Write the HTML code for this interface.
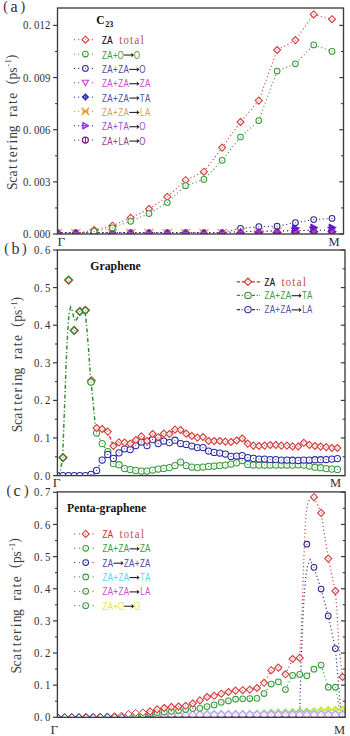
<!DOCTYPE html>
<html><head><meta charset="utf-8"><style>
html,body{margin:0;padding:0;background:#fff;}
svg{display:block;}
</style></head><body>
<svg width="350" height="736" viewBox="0 0 350 736">
<defs><clipPath id="ca"><rect x="57.5" y="8" width="286" height="226"/></clipPath><clipPath id="cb"><rect x="57.4" y="250" width="287.6" height="225.6"/></clipPath><clipPath id="cc"><rect x="57.4" y="491.9" width="287.8" height="225.4"/></clipPath></defs>
<rect width="350" height="736" fill="#fff"/>
<g clip-path="url(#ca)"><polyline points="57.5,232.7 75.8,232.7 94.1,232.7 112.4,232.7 130.7,232.7 149,232.7 167.3,232.7 185.6,232.7 203.9,232.7 222.2,232.7 240.5,231.7 258.8,231.3 277.1,231.1 295.4,230.7 313.7,230.3 332,230.3" fill="none" stroke="#d43c3c" stroke-width="1.1" stroke-dasharray="1.1 3" stroke-linecap="butt"/><polyline points="57.5,232.6 75.8,232.6 94.1,232.6 112.4,232.6 130.7,232.6 149,232.6 167.3,232.6 185.6,232.6 203.9,232.6 222.2,232.6 240.5,231.6 258.8,231.2 277.1,231 295.4,230.6 313.7,230.2 332,230.2" fill="none" stroke="#7a2a9a" stroke-width="1.1" stroke-dasharray="1.1 3" stroke-linecap="butt"/><polyline points="57.5,232.5 75.8,232.5 94.1,232.5 112.4,232.5 130.7,232.5 149,232.5 167.3,232.5 185.6,232.5 203.9,232.5 222.2,232.5 240.5,228.4 258.8,226.7 277.1,226.2 295.4,222.7 313.7,219.6 332,218.4" fill="none" stroke="#2a2a8c" stroke-width="1.1" stroke-dasharray="1.1 2.6" stroke-linecap="butt"/><polyline points="57.5,234.5 75.8,233.8 94.1,231.4 112.4,227.9 130.7,221.3 149,213.6 167.3,202.5 185.6,185.7 203.9,179.4 222.2,160.3 240.5,137 258.8,120.6 277.1,71 295.4,63.8 313.7,44.9 332,51.4" fill="none" stroke="#3a9a3a" stroke-width="1.1" stroke-dasharray="1.1 2.6" stroke-linecap="butt"/><polyline points="57.5,234 75.8,233.3 94.1,230 112.4,225.7 130.7,217.8 149,209 167.3,196.8 185.6,180.2 203.9,171.7 222.2,147.6 240.5,122 258.8,100.6 277.1,50 295.4,40.1 313.7,14.4 332,19.2" fill="none" stroke="#d43c3c" stroke-width="1.1" stroke-dasharray="1.1 2.6" stroke-linecap="butt"/><circle cx="57.5" cy="232.5" r="2.85" fill="#fff" stroke="#2a2a8c" stroke-width="1.05"/><circle cx="57.5" cy="232.5" r="0.55" fill="#2a2a8c"/><circle cx="75.8" cy="232.5" r="2.85" fill="#fff" stroke="#2a2a8c" stroke-width="1.05"/><circle cx="75.8" cy="232.5" r="0.55" fill="#2a2a8c"/><circle cx="94.1" cy="232.5" r="2.85" fill="#fff" stroke="#2a2a8c" stroke-width="1.05"/><circle cx="94.1" cy="232.5" r="0.55" fill="#2a2a8c"/><circle cx="112.4" cy="232.5" r="2.85" fill="#fff" stroke="#2a2a8c" stroke-width="1.05"/><circle cx="112.4" cy="232.5" r="0.55" fill="#2a2a8c"/><circle cx="130.7" cy="232.5" r="2.85" fill="#fff" stroke="#2a2a8c" stroke-width="1.05"/><circle cx="130.7" cy="232.5" r="0.55" fill="#2a2a8c"/><circle cx="149" cy="232.5" r="2.85" fill="#fff" stroke="#2a2a8c" stroke-width="1.05"/><circle cx="149" cy="232.5" r="0.55" fill="#2a2a8c"/><circle cx="167.3" cy="232.5" r="2.85" fill="#fff" stroke="#2a2a8c" stroke-width="1.05"/><circle cx="167.3" cy="232.5" r="0.55" fill="#2a2a8c"/><circle cx="185.6" cy="232.5" r="2.85" fill="#fff" stroke="#2a2a8c" stroke-width="1.05"/><circle cx="185.6" cy="232.5" r="0.55" fill="#2a2a8c"/><circle cx="203.9" cy="232.5" r="2.85" fill="#fff" stroke="#2a2a8c" stroke-width="1.05"/><circle cx="203.9" cy="232.5" r="0.55" fill="#2a2a8c"/><circle cx="222.2" cy="232.5" r="2.85" fill="#fff" stroke="#2a2a8c" stroke-width="1.05"/><circle cx="222.2" cy="232.5" r="0.55" fill="#2a2a8c"/><circle cx="240.5" cy="228.4" r="2.85" fill="#fff" stroke="#2a2a8c" stroke-width="1.05"/><circle cx="240.5" cy="228.4" r="0.55" fill="#2a2a8c"/><circle cx="258.8" cy="226.7" r="2.85" fill="#fff" stroke="#2a2a8c" stroke-width="1.05"/><circle cx="258.8" cy="226.7" r="0.55" fill="#2a2a8c"/><circle cx="277.1" cy="226.2" r="2.85" fill="#fff" stroke="#2a2a8c" stroke-width="1.05"/><circle cx="277.1" cy="226.2" r="0.55" fill="#2a2a8c"/><circle cx="295.4" cy="222.7" r="2.85" fill="#fff" stroke="#2a2a8c" stroke-width="1.05"/><circle cx="295.4" cy="222.7" r="0.55" fill="#2a2a8c"/><circle cx="313.7" cy="219.6" r="2.85" fill="#fff" stroke="#2a2a8c" stroke-width="1.05"/><circle cx="313.7" cy="219.6" r="0.55" fill="#2a2a8c"/><circle cx="332" cy="218.4" r="2.85" fill="#fff" stroke="#2a2a8c" stroke-width="1.05"/><circle cx="332" cy="218.4" r="0.55" fill="#2a2a8c"/><path d="M52.9 229L62.1 238.2M52.9 238.2L62.1 229" stroke="#f2a040" stroke-width="1.1"/><path d="M57.5 229.3L62.3 234.2L57.5 238.7L52.7 234.2z" fill="#6a22c4"/><path d="M55.3 232.6L59.7 232.6L57.5 235.4z" fill="none" stroke="#e040b0" stroke-width="0.9"/><path d="M71.2 229L80.4 238.2M71.2 238.2L80.4 229" stroke="#f2a040" stroke-width="1.1"/><path d="M75.8 229.3L80.6 234.2L75.8 238.7L71 234.2z" fill="#6a22c4"/><path d="M73.6 232.6L78 232.6L75.8 235.4z" fill="none" stroke="#e040b0" stroke-width="0.9"/><path d="M89.5 229L98.7 238.2M89.5 238.2L98.7 229" stroke="#f2a040" stroke-width="1.1"/><path d="M94.1 229.3L98.9 234.2L94.1 238.7L89.3 234.2z" fill="#6a22c4"/><path d="M91.9 232.6L96.3 232.6L94.1 235.4z" fill="none" stroke="#e040b0" stroke-width="0.9"/><path d="M107.8 229L117 238.2M107.8 238.2L117 229" stroke="#f2a040" stroke-width="1.1"/><path d="M112.4 229.3L117.2 234.2L112.4 238.7L107.6 234.2z" fill="#6a22c4"/><path d="M110.2 232.6L114.6 232.6L112.4 235.4z" fill="none" stroke="#e040b0" stroke-width="0.9"/><path d="M126.1 229L135.3 238.2M126.1 238.2L135.3 229" stroke="#f2a040" stroke-width="1.1"/><path d="M130.7 229.3L135.5 234.2L130.7 238.7L125.9 234.2z" fill="#6a22c4"/><path d="M128.5 232.6L132.9 232.6L130.7 235.4z" fill="none" stroke="#e040b0" stroke-width="0.9"/><path d="M144.4 229L153.6 238.2M144.4 238.2L153.6 229" stroke="#f2a040" stroke-width="1.1"/><path d="M149 229.3L153.8 234.2L149 238.7L144.2 234.2z" fill="#6a22c4"/><path d="M146.8 232.6L151.2 232.6L149 235.4z" fill="none" stroke="#e040b0" stroke-width="0.9"/><path d="M162.7 229L171.9 238.2M162.7 238.2L171.9 229" stroke="#f2a040" stroke-width="1.1"/><path d="M167.3 229.3L172.1 234.2L167.3 238.7L162.5 234.2z" fill="#6a22c4"/><path d="M165.1 232.6L169.5 232.6L167.3 235.4z" fill="none" stroke="#e040b0" stroke-width="0.9"/><path d="M181 229L190.2 238.2M181 238.2L190.2 229" stroke="#f2a040" stroke-width="1.1"/><path d="M185.6 229.3L190.4 234.2L185.6 238.7L180.8 234.2z" fill="#6a22c4"/><path d="M183.4 232.6L187.8 232.6L185.6 235.4z" fill="none" stroke="#e040b0" stroke-width="0.9"/><path d="M199.3 229L208.5 238.2M199.3 238.2L208.5 229" stroke="#f2a040" stroke-width="1.1"/><path d="M203.9 229.3L208.7 234.2L203.9 238.7L199.1 234.2z" fill="#6a22c4"/><path d="M201.7 232.6L206.1 232.6L203.9 235.4z" fill="none" stroke="#e040b0" stroke-width="0.9"/><path d="M217.6 229L226.8 238.2M217.6 238.2L226.8 229" stroke="#f2a040" stroke-width="1.1"/><path d="M222.2 229.3L227 234.2L222.2 238.7L217.4 234.2z" fill="#6a22c4"/><path d="M220 232.6L224.4 232.6L222.2 235.4z" fill="none" stroke="#e040b0" stroke-width="0.9"/><path d="M235.9 228L245.1 237.2M235.9 237.2L245.1 228" stroke="#f2a040" stroke-width="1.1"/><path d="M240.5 228.3L245.3 233.2L240.5 237.7L235.7 233.2z" fill="#6a22c4"/><path d="M238.3 231.6L242.7 231.6L240.5 234.4z" fill="none" stroke="#e040b0" stroke-width="0.9"/><path d="M254.2 227.6L263.4 236.8M254.2 236.8L263.4 227.6" stroke="#f2a040" stroke-width="1.1"/><path d="M258.8 227.9L263.6 232.8L258.8 237.3L254 232.8z" fill="#6a22c4"/><path d="M256.6 231.2L261 231.2L258.8 234z" fill="none" stroke="#e040b0" stroke-width="0.9"/><path d="M272.5 227.4L281.7 236.6M272.5 236.6L281.7 227.4" stroke="#f2a040" stroke-width="1.1"/><path d="M277.1 227.7L281.9 232.6L277.1 237.1L272.3 232.6z" fill="#6a22c4"/><path d="M274.9 231L279.3 231L277.1 233.8z" fill="none" stroke="#e040b0" stroke-width="0.9"/><path d="M290.8 227L300 236.2M290.8 236.2L300 227" stroke="#f2a040" stroke-width="1.1"/><path d="M295.4 227.3L300.2 232.2L295.4 236.7L290.6 232.2z" fill="#6a22c4"/><path d="M293.2 230.6L297.6 230.6L295.4 233.4z" fill="none" stroke="#e040b0" stroke-width="0.9"/><path d="M292.68 225L298.8 228.4L292.68 231.8z" fill="#6a22d0" stroke="#5a1cc8" stroke-width="1.3" stroke-linejoin="round"/><line x1="290.98" y1="228.4" x2="297.1" y2="228.4" stroke="#5a1cc8" stroke-width="1"/><circle cx="295.4" cy="232" r="1.1" fill="#e05050"/><path d="M309.1 226.6L318.3 235.8M309.1 235.8L318.3 226.6" stroke="#f2a040" stroke-width="1.1"/><path d="M313.7 226.9L318.5 231.8L313.7 236.3L308.9 231.8z" fill="#6a22c4"/><path d="M311.5 230.2L315.9 230.2L313.7 233z" fill="none" stroke="#e040b0" stroke-width="0.9"/><path d="M310.98 224.2L317.1 227.6L310.98 231z" fill="#6a22d0" stroke="#5a1cc8" stroke-width="1.3" stroke-linejoin="round"/><line x1="309.28" y1="227.6" x2="315.4" y2="227.6" stroke="#5a1cc8" stroke-width="1"/><circle cx="313.7" cy="231.6" r="1.1" fill="#e05050"/><path d="M327.4 226.6L336.6 235.8M327.4 235.8L336.6 226.6" stroke="#f2a040" stroke-width="1.1"/><path d="M332 226.9L336.8 231.8L332 236.3L327.2 231.8z" fill="#6a22c4"/><path d="M329.8 230.2L334.2 230.2L332 233z" fill="none" stroke="#e040b0" stroke-width="0.9"/><path d="M329.28 224.2L335.4 227.6L329.28 231z" fill="#6a22d0" stroke="#5a1cc8" stroke-width="1.3" stroke-linejoin="round"/><line x1="327.58" y1="227.6" x2="333.7" y2="227.6" stroke="#5a1cc8" stroke-width="1"/><circle cx="332" cy="231.6" r="1.1" fill="#e05050"/><path d="M94.1 226.5L97.6 230L94.1 233.5L90.6 230z" fill="#fff" stroke="#d43c3c" stroke-width="1.1"/><circle cx="94.1" cy="230" r="0.55" fill="#d43c3c"/><path d="M112.4 222.2L115.9 225.7L112.4 229.2L108.9 225.7z" fill="#fff" stroke="#d43c3c" stroke-width="1.1"/><circle cx="112.4" cy="225.7" r="0.55" fill="#d43c3c"/><path d="M130.7 214.3L134.2 217.8L130.7 221.3L127.2 217.8z" fill="#fff" stroke="#d43c3c" stroke-width="1.1"/><circle cx="130.7" cy="217.8" r="0.55" fill="#d43c3c"/><path d="M149 205.5L152.5 209L149 212.5L145.5 209z" fill="#fff" stroke="#d43c3c" stroke-width="1.1"/><circle cx="149" cy="209" r="0.55" fill="#d43c3c"/><path d="M167.3 193.3L170.8 196.8L167.3 200.3L163.8 196.8z" fill="#fff" stroke="#d43c3c" stroke-width="1.1"/><circle cx="167.3" cy="196.8" r="0.55" fill="#d43c3c"/><path d="M185.6 176.7L189.1 180.2L185.6 183.7L182.1 180.2z" fill="#fff" stroke="#d43c3c" stroke-width="1.1"/><circle cx="185.6" cy="180.2" r="0.55" fill="#d43c3c"/><path d="M203.9 168.2L207.4 171.7L203.9 175.2L200.4 171.7z" fill="#fff" stroke="#d43c3c" stroke-width="1.1"/><circle cx="203.9" cy="171.7" r="0.55" fill="#d43c3c"/><path d="M222.2 144.1L225.7 147.6L222.2 151.1L218.7 147.6z" fill="#fff" stroke="#d43c3c" stroke-width="1.1"/><circle cx="222.2" cy="147.6" r="0.55" fill="#d43c3c"/><path d="M240.5 118.5L244 122L240.5 125.5L237 122z" fill="#fff" stroke="#d43c3c" stroke-width="1.1"/><circle cx="240.5" cy="122" r="0.55" fill="#d43c3c"/><path d="M258.8 97.1L262.3 100.6L258.8 104.1L255.3 100.6z" fill="#fff" stroke="#d43c3c" stroke-width="1.1"/><circle cx="258.8" cy="100.6" r="0.55" fill="#d43c3c"/><path d="M277.1 46.5L280.6 50L277.1 53.5L273.6 50z" fill="#fff" stroke="#d43c3c" stroke-width="1.1"/><circle cx="277.1" cy="50" r="0.55" fill="#d43c3c"/><path d="M295.4 36.6L298.9 40.1L295.4 43.6L291.9 40.1z" fill="#fff" stroke="#d43c3c" stroke-width="1.1"/><circle cx="295.4" cy="40.1" r="0.55" fill="#d43c3c"/><path d="M313.7 10.9L317.2 14.4L313.7 17.9L310.2 14.4z" fill="#fff" stroke="#d43c3c" stroke-width="1.1"/><circle cx="313.7" cy="14.4" r="0.55" fill="#d43c3c"/><path d="M332 15.7L335.5 19.2L332 22.7L328.5 19.2z" fill="#fff" stroke="#d43c3c" stroke-width="1.1"/><circle cx="332" cy="19.2" r="0.55" fill="#d43c3c"/><circle cx="94.1" cy="231.4" r="2.85" fill="#fff" stroke="#3a9a3a" stroke-width="1.05"/><circle cx="94.1" cy="231.4" r="0.55" fill="#3a9a3a"/><circle cx="112.4" cy="227.9" r="2.85" fill="#fff" stroke="#3a9a3a" stroke-width="1.05"/><circle cx="112.4" cy="227.9" r="0.55" fill="#3a9a3a"/><circle cx="130.7" cy="221.3" r="2.85" fill="#fff" stroke="#3a9a3a" stroke-width="1.05"/><circle cx="130.7" cy="221.3" r="0.55" fill="#3a9a3a"/><circle cx="149" cy="213.6" r="2.85" fill="#fff" stroke="#3a9a3a" stroke-width="1.05"/><circle cx="149" cy="213.6" r="0.55" fill="#3a9a3a"/><circle cx="167.3" cy="202.5" r="2.85" fill="#fff" stroke="#3a9a3a" stroke-width="1.05"/><circle cx="167.3" cy="202.5" r="0.55" fill="#3a9a3a"/><circle cx="185.6" cy="185.7" r="2.85" fill="#fff" stroke="#3a9a3a" stroke-width="1.05"/><circle cx="185.6" cy="185.7" r="0.55" fill="#3a9a3a"/><circle cx="203.9" cy="179.4" r="2.85" fill="#fff" stroke="#3a9a3a" stroke-width="1.05"/><circle cx="203.9" cy="179.4" r="0.55" fill="#3a9a3a"/><circle cx="222.2" cy="160.3" r="2.85" fill="#fff" stroke="#3a9a3a" stroke-width="1.05"/><circle cx="222.2" cy="160.3" r="0.55" fill="#3a9a3a"/><circle cx="240.5" cy="137" r="2.85" fill="#fff" stroke="#3a9a3a" stroke-width="1.05"/><circle cx="240.5" cy="137" r="0.55" fill="#3a9a3a"/><circle cx="258.8" cy="120.6" r="2.85" fill="#fff" stroke="#3a9a3a" stroke-width="1.05"/><circle cx="258.8" cy="120.6" r="0.55" fill="#3a9a3a"/><circle cx="277.1" cy="71" r="2.85" fill="#fff" stroke="#3a9a3a" stroke-width="1.05"/><circle cx="277.1" cy="71" r="0.55" fill="#3a9a3a"/><circle cx="295.4" cy="63.8" r="2.85" fill="#fff" stroke="#3a9a3a" stroke-width="1.05"/><circle cx="295.4" cy="63.8" r="0.55" fill="#3a9a3a"/><circle cx="313.7" cy="44.9" r="2.85" fill="#fff" stroke="#3a9a3a" stroke-width="1.05"/><circle cx="313.7" cy="44.9" r="0.55" fill="#3a9a3a"/><circle cx="332" cy="51.4" r="2.85" fill="#fff" stroke="#3a9a3a" stroke-width="1.05"/><circle cx="332" cy="51.4" r="0.55" fill="#3a9a3a"/></g><rect x="57.5" y="8" width="286" height="226" fill="none" stroke="#3c3c3c" stroke-width="1.35"/><line x1="53.1" y1="234" x2="57.5" y2="234" stroke="#3c3c3c" stroke-width="1.2"/><line x1="339.3" y1="234" x2="343.5" y2="234" stroke="#3c3c3c" stroke-width="1.2"/><text x="28.47 33.53 40.81 46.97 53.14" y="238.1" font-family="Liberation Serif" font-size="12" font-weight="normal" fill="#303030" text-anchor="middle" transform="scale(0.9 1)" >0.000</text><line x1="53.1" y1="181.85" x2="57.5" y2="181.85" stroke="#3c3c3c" stroke-width="1.2"/><line x1="339.3" y1="181.85" x2="343.5" y2="181.85" stroke="#3c3c3c" stroke-width="1.2"/><text x="28.47 33.53 40.81 46.97 53.14" y="185.95" font-family="Liberation Serif" font-size="12" font-weight="normal" fill="#303030" text-anchor="middle" transform="scale(0.9 1)" >0.003</text><line x1="53.1" y1="129.7" x2="57.5" y2="129.7" stroke="#3c3c3c" stroke-width="1.2"/><line x1="339.3" y1="129.7" x2="343.5" y2="129.7" stroke="#3c3c3c" stroke-width="1.2"/><text x="28.47 33.53 40.81 46.97 53.14" y="133.8" font-family="Liberation Serif" font-size="12" font-weight="normal" fill="#303030" text-anchor="middle" transform="scale(0.9 1)" >0.006</text><line x1="53.1" y1="77.55" x2="57.5" y2="77.55" stroke="#3c3c3c" stroke-width="1.2"/><line x1="339.3" y1="77.55" x2="343.5" y2="77.55" stroke="#3c3c3c" stroke-width="1.2"/><text x="28.47 33.53 40.81 46.97 53.14" y="81.65" font-family="Liberation Serif" font-size="12" font-weight="normal" fill="#303030" text-anchor="middle" transform="scale(0.9 1)" >0.009</text><line x1="53.1" y1="25.4" x2="57.5" y2="25.4" stroke="#3c3c3c" stroke-width="1.2"/><line x1="339.3" y1="25.4" x2="343.5" y2="25.4" stroke="#3c3c3c" stroke-width="1.2"/><text x="28.47 33.53 40.81 46.97 53.14" y="29.5" font-family="Liberation Serif" font-size="12" font-weight="normal" fill="#303030" text-anchor="middle" transform="scale(0.9 1)" >0.012</text><line x1="55.1" y1="207.93" x2="57.5" y2="207.93" stroke="#3c3c3c" stroke-width="1.1"/><line x1="341.1" y1="207.93" x2="343.5" y2="207.93" stroke="#3c3c3c" stroke-width="1.1"/><line x1="55.1" y1="155.78" x2="57.5" y2="155.78" stroke="#3c3c3c" stroke-width="1.1"/><line x1="341.1" y1="155.78" x2="343.5" y2="155.78" stroke="#3c3c3c" stroke-width="1.1"/><line x1="55.1" y1="103.62" x2="57.5" y2="103.62" stroke="#3c3c3c" stroke-width="1.1"/><line x1="341.1" y1="103.62" x2="343.5" y2="103.62" stroke="#3c3c3c" stroke-width="1.1"/><line x1="55.1" y1="51.47" x2="57.5" y2="51.47" stroke="#3c3c3c" stroke-width="1.1"/><line x1="341.1" y1="51.47" x2="343.5" y2="51.47" stroke="#3c3c3c" stroke-width="1.1"/><g transform="translate(16.9 121.9) rotate(-90)" fill="#3c3c3c" font-family="Liberation Serif"><text x="-64.22 -57.86 -51.5 -45.14 -38.78 -32.42 -26.06 -19.7 -13.34 -6.98" y="0" font-size="13.6" text-anchor="middle">Scattering</text><text x="7.18 13.54 19.9 26.26" y="0" font-size="13.6" text-anchor="middle">rate</text><text x="39.8" y="-1.3" font-size="13.6" text-anchor="middle">(</text><text x="45.9 51.8" y="0" font-size="13.6" text-anchor="middle">ps</text><text x="56.6 60.6" y="-5.6" font-size="8" text-anchor="middle">-1</text><text x="65.0" y="-1.3" font-size="13.6" text-anchor="middle">)</text></g><text x="3.2" y="11.3" font-family="Liberation Serif" font-size="14" fill="#303030">(</text><text x="10.4" y="12.3" font-family="Liberation Serif" font-size="16" fill="#303030">a</text><text x="20.5" y="11.3" font-family="Liberation Serif" font-size="14" fill="#303030">)</text><text x="57.6" y="245.6" font-family="Liberation Serif" font-size="13.2" fill="#303030">&#915;</text><text x="328.4" y="245.6" font-family="Liberation Serif" font-size="12.5" fill="#303030">M</text><text x="96.3" y="24" font-family="Liberation Serif" font-size="11.6" font-weight="bold" fill="#111">C</text><text x="105.2" y="27.4" font-family="Liberation Serif" font-size="8" font-weight="bold" fill="#111">23</text><circle cx="74.5" cy="39.7" r="0.65" fill="#d43c3c"/><circle cx="78.7" cy="39.7" r="0.65" fill="#d43c3c"/><circle cx="92.5" cy="39.7" r="0.65" fill="#d43c3c"/><path d="M85.4 36.2L88.9 39.7L85.4 43.2L81.9 39.7z" fill="#fff" stroke="#d43c3c" stroke-width="1.1"/><circle cx="85.4" cy="39.7" r="0.55" fill="#d43c3c"/><text x="130.62 137.38" y="44.2" font-family="Liberation Sans" font-size="10" font-weight="normal" fill="#111111" text-anchor="middle" transform="scale(0.8 1)" stroke="#111111" stroke-width="0.2">ZA</text><text x="137.16 143.3 149.43 155.57 161.7" y="44.2" font-family="Liberation Serif" font-size="12.2" font-weight="normal" fill="#b84a4a" text-anchor="middle" transform="scale(0.88 1)" >total</text><circle cx="74.5" cy="54.04" r="0.65" fill="#3a9a3a"/><circle cx="78.7" cy="54.04" r="0.65" fill="#3a9a3a"/><circle cx="92.5" cy="54.04" r="0.65" fill="#3a9a3a"/><circle cx="85.4" cy="54.04" r="2.85" fill="#fff" stroke="#3a9a3a" stroke-width="1.05"/><circle cx="85.4" cy="54.04" r="0.55" fill="#3a9a3a"/><text x="130.62 137.38 144.12 150.88" y="58.54" font-family="Liberation Sans" font-size="10" font-weight="normal" fill="#3f9a3f" text-anchor="middle" transform="scale(0.8 1)" >ZA+O</text><line x1="123.9" y1="55.04" x2="132.6" y2="55.04" stroke="#1a1a1a" stroke-width="1.05"/><path d="M131.1 52.64L134.1 55.04L131.1 57.44L132 55.04z" fill="#1a1a1a"/><text x="171.12" y="58.54" font-family="Liberation Sans" font-size="10" font-weight="normal" fill="#3f9a3f" text-anchor="middle" transform="scale(0.8 1)" >O</text><circle cx="74.5" cy="68.38" r="0.65" fill="#2a2a8c"/><circle cx="78.7" cy="68.38" r="0.65" fill="#2a2a8c"/><circle cx="92.5" cy="68.38" r="0.65" fill="#2a2a8c"/><circle cx="85.4" cy="68.38" r="2.85" fill="#fff" stroke="#2a2a8c" stroke-width="1.05"/><circle cx="85.4" cy="68.38" r="0.55" fill="#2a2a8c"/><text x="130.62 137.38 144.12 150.88 157.62" y="72.88" font-family="Liberation Sans" font-size="10" font-weight="normal" fill="#4a4aa0" text-anchor="middle" transform="scale(0.8 1)" >ZA+ZA</text><line x1="129.3" y1="69.38" x2="138" y2="69.38" stroke="#1a1a1a" stroke-width="1.05"/><path d="M136.5 66.98L139.5 69.38L136.5 71.78L137.4 69.38z" fill="#1a1a1a"/><text x="177.87" y="72.88" font-family="Liberation Sans" font-size="10" font-weight="normal" fill="#4a4aa0" text-anchor="middle" transform="scale(0.8 1)" >O</text><circle cx="74.5" cy="82.72" r="0.65" fill="#d23cd2"/><circle cx="78.7" cy="82.72" r="0.65" fill="#d23cd2"/><circle cx="92.5" cy="82.72" r="0.65" fill="#d23cd2"/><path d="M82.3 80.24L88.5 80.24L85.4 85.66z" fill="#fff" stroke="#d23cd2" stroke-width="1.15"/><text x="130.62 137.38 144.12 150.88 157.62" y="87.22" font-family="Liberation Sans" font-size="10" font-weight="normal" fill="#cc4acc" text-anchor="middle" transform="scale(0.8 1)" >ZA+ZA</text><line x1="129.3" y1="83.72" x2="138" y2="83.72" stroke="#1a1a1a" stroke-width="1.05"/><path d="M136.5 81.32L139.5 83.72L136.5 86.12L137.4 83.72z" fill="#1a1a1a"/><text x="177.87 184.62" y="87.22" font-family="Liberation Sans" font-size="10" font-weight="normal" fill="#cc4acc" text-anchor="middle" transform="scale(0.8 1)" >ZA</text><circle cx="74.5" cy="97.06" r="0.65" fill="#1c1cb4"/><circle cx="78.7" cy="97.06" r="0.65" fill="#1c1cb4"/><circle cx="92.5" cy="97.06" r="0.65" fill="#1c1cb4"/><path d="M85.4 93.36L89.1 97.06L85.4 100.76L81.7 97.06z" fill="#1c1cb4"/><path d="M84.6 95.46v3.2M86.2 95.46v3.2" stroke="#c8c8ff" stroke-width="0.6"/><text x="130.62 137.38 144.12 150.88 157.62" y="101.56" font-family="Liberation Sans" font-size="10" font-weight="normal" fill="#4a50b4" text-anchor="middle" transform="scale(0.8 1)" >ZA+ZA</text><line x1="129.3" y1="98.06" x2="138" y2="98.06" stroke="#1a1a1a" stroke-width="1.05"/><path d="M136.5 95.66L139.5 98.06L136.5 100.46L137.4 98.06z" fill="#1a1a1a"/><text x="177.87 184.62" y="101.56" font-family="Liberation Sans" font-size="10" font-weight="normal" fill="#4a50b4" text-anchor="middle" transform="scale(0.8 1)" >TA</text><circle cx="74.5" cy="111.4" r="0.65" fill="#f0901e"/><circle cx="78.7" cy="111.4" r="0.65" fill="#f0901e"/><circle cx="92.5" cy="111.4" r="0.65" fill="#f0901e"/><path d="M81.6 107.6L89.2 115.2M81.6 115.2L89.2 107.6" stroke="#f0901e" stroke-width="1.2"/><path d="M82.55 109.12L85.4 111.4L82.55 113.68z M88.25 109.12L85.4 111.4L88.25 113.68z" fill="#f0901e" fill-opacity="0.85"/><text x="130.62 137.38 144.12 150.88 157.62" y="115.9" font-family="Liberation Sans" font-size="10" font-weight="normal" fill="#d4a060" text-anchor="middle" transform="scale(0.8 1)" >ZA+ZA</text><line x1="129.3" y1="112.4" x2="138" y2="112.4" stroke="#1a1a1a" stroke-width="1.05"/><path d="M136.5 110L139.5 112.4L136.5 114.8L137.4 112.4z" fill="#1a1a1a"/><text x="177.87 184.62" y="115.9" font-family="Liberation Sans" font-size="10" font-weight="normal" fill="#d4a060" text-anchor="middle" transform="scale(0.8 1)" >LA</text><circle cx="74.5" cy="125.74" r="0.65" fill="#8a2be2"/><circle cx="78.7" cy="125.74" r="0.65" fill="#8a2be2"/><circle cx="92.5" cy="125.74" r="0.65" fill="#8a2be2"/><path d="M82.84 122.54L88.6 125.74L82.84 128.94z" fill="#dcc8fa" stroke="#8a2be2" stroke-width="1.3" stroke-linejoin="round"/><line x1="81.24" y1="125.74" x2="87" y2="125.74" stroke="#8a2be2" stroke-width="1"/><text x="130.62 137.38 144.12 150.88 157.62" y="130.24" font-family="Liberation Sans" font-size="10" font-weight="normal" fill="#9050d0" text-anchor="middle" transform="scale(0.8 1)" >ZA+TA</text><line x1="129.3" y1="126.74" x2="138" y2="126.74" stroke="#1a1a1a" stroke-width="1.05"/><path d="M136.5 124.34L139.5 126.74L136.5 129.14L137.4 126.74z" fill="#1a1a1a"/><text x="177.87" y="130.24" font-family="Liberation Sans" font-size="10" font-weight="normal" fill="#9050d0" text-anchor="middle" transform="scale(0.8 1)" >O</text><circle cx="74.5" cy="140.08" r="0.65" fill="#7a1f7a"/><circle cx="78.7" cy="140.08" r="0.65" fill="#7a1f7a"/><circle cx="92.5" cy="140.08" r="0.65" fill="#7a1f7a"/><circle cx="85.4" cy="140.08" r="3" fill="#fff" stroke="#7a1f7a" stroke-width="1.2"/><line x1="85.4" y1="137.08" x2="85.4" y2="143.08" stroke="#7a1f7a" stroke-width="1"/><text x="130.62 137.38 144.12 150.88 157.62" y="144.58" font-family="Liberation Sans" font-size="10" font-weight="normal" fill="#904090" text-anchor="middle" transform="scale(0.8 1)" >ZA+LA</text><line x1="129.3" y1="141.08" x2="138" y2="141.08" stroke="#1a1a1a" stroke-width="1.05"/><path d="M136.5 138.68L139.5 141.08L136.5 143.48L137.4 141.08z" fill="#1a1a1a"/><text x="177.87" y="144.58" font-family="Liberation Sans" font-size="10" font-weight="normal" fill="#904090" text-anchor="middle" transform="scale(0.8 1)" >O</text><g clip-path="url(#cb)"><polyline points="57.6,476 60.5,470 62.6,457.6 64.6,405 66.2,362 67.6,333 69,314 70.6,307.3 72.3,311 74.1,319 75.8,321.5 78,316.5 79.7,312.4 83.3,312.2 85.6,316 86.8,328.3 88.6,349.5 90.3,374.2 92.1,392 94,412 96,433" fill="none" stroke="#2e8b2e" stroke-width="1.45" stroke-dasharray="4 2.2 1.2 2.4" stroke-linecap="butt"/><polyline points="96.6,433 102.2,443.6 107.8,451.6 113.4,463.6 119,464.7 124.6,468.5 130.2,469.6 135.8,470.4 141.4,471 147,471 152.6,470 158.2,469 163.8,468.4 169.4,467.6 175,465.5 180.6,462 186.2,465.6 191.8,467 197.4,467.6 203,467 208.6,466.4 214.2,466 219.8,465.6 225.4,465 231,464 236.6,462.8 242.2,460.5 247.8,464.4 253.4,465 259,465 264.6,465 270.2,465 275.8,465 281.4,465 287,465 292.6,465.1 298.2,464.8 303.8,465.1 309.4,466 315,467.2 320.6,467.7 326.2,468.6 331.8,469.1 337.4,469.4" fill="none" stroke="#2e8b2e" stroke-width="1.3" stroke-dasharray="4 2.2 1.2 2.4" stroke-linecap="butt"/><polyline points="57.4,475.6 63,475.6 68.6,475.6 74.2,475.6 79.8,475.6 85.4,475.6 91,474.4 96.6,470.4 102.2,460 107.8,454.4 113.4,458.4 119,452.8 124.6,448.8 130.2,449.6 135.8,445.6 141.4,442 147,445.6 152.6,439.6 158.2,443.6 163.8,441 169.4,442.6 175,440.2 180.6,443.5 186.2,444.4 191.8,446 197.4,447.6 203,447.6 208.6,451 214.2,452.4 219.8,453 225.4,454 231,456.4 236.6,456 242.2,455.5 247.8,457.6 253.4,458.4 259,459 264.6,459 270.2,459.6 275.8,459.6 281.4,460 287,460 292.6,460.2 298.2,460.4 303.8,460 309.4,460 315,459.7 320.6,459.7 326.2,459.5 331.8,459.1 337.4,458.6" fill="none" stroke="#2a2aa0" stroke-width="1.3" stroke-dasharray="4 2.2 1.2 2.4" stroke-linecap="butt"/><polyline points="96.6,428 102.2,429 107.8,431.6 113.4,446 119,442.4 124.6,442.6 130.2,443.6 135.8,440 141.4,436.4 147,441 152.6,434 158.2,437.2 163.8,433.6 169.4,434 175,429.6 180.6,430 186.2,433.6 191.8,436 197.4,437.6 203,437 208.6,441 214.2,441 219.8,441 225.4,441.6 231,442 236.6,440.5 242.2,438.5 247.8,443.6 253.4,445.6 259,446 264.6,445.6 270.2,445 275.8,445 281.4,445.6 287,445.6 292.6,446.4 298.2,446.5 303.8,442.8 309.4,444.9 315,446 320.6,446.6 326.2,447.1 331.8,448 337.4,448" fill="none" stroke="#d42a2a" stroke-width="1.35" stroke-dasharray="3.6 2" stroke-linecap="butt"/><circle cx="96.6" cy="433" r="3.1" fill="#fff" stroke="#3a9a3a" stroke-width="1.05"/><circle cx="96.6" cy="433" r="0.55" fill="#3a9a3a"/><circle cx="102.2" cy="443.6" r="3.1" fill="#fff" stroke="#3a9a3a" stroke-width="1.05"/><circle cx="102.2" cy="443.6" r="0.55" fill="#3a9a3a"/><circle cx="107.8" cy="451.6" r="3.1" fill="#fff" stroke="#3a9a3a" stroke-width="1.05"/><circle cx="107.8" cy="451.6" r="0.55" fill="#3a9a3a"/><circle cx="113.4" cy="463.6" r="3.1" fill="#fff" stroke="#3a9a3a" stroke-width="1.05"/><circle cx="113.4" cy="463.6" r="0.55" fill="#3a9a3a"/><circle cx="119" cy="464.7" r="3.1" fill="#fff" stroke="#3a9a3a" stroke-width="1.05"/><circle cx="119" cy="464.7" r="0.55" fill="#3a9a3a"/><circle cx="124.6" cy="468.5" r="3.1" fill="#fff" stroke="#3a9a3a" stroke-width="1.05"/><circle cx="124.6" cy="468.5" r="0.55" fill="#3a9a3a"/><circle cx="130.2" cy="469.6" r="3.1" fill="#fff" stroke="#3a9a3a" stroke-width="1.05"/><circle cx="130.2" cy="469.6" r="0.55" fill="#3a9a3a"/><circle cx="135.8" cy="470.4" r="3.1" fill="#fff" stroke="#3a9a3a" stroke-width="1.05"/><circle cx="135.8" cy="470.4" r="0.55" fill="#3a9a3a"/><circle cx="141.4" cy="471" r="3.1" fill="#fff" stroke="#3a9a3a" stroke-width="1.05"/><circle cx="141.4" cy="471" r="0.55" fill="#3a9a3a"/><circle cx="147" cy="471" r="3.1" fill="#fff" stroke="#3a9a3a" stroke-width="1.05"/><circle cx="147" cy="471" r="0.55" fill="#3a9a3a"/><circle cx="152.6" cy="470" r="3.1" fill="#fff" stroke="#3a9a3a" stroke-width="1.05"/><circle cx="152.6" cy="470" r="0.55" fill="#3a9a3a"/><circle cx="158.2" cy="469" r="3.1" fill="#fff" stroke="#3a9a3a" stroke-width="1.05"/><circle cx="158.2" cy="469" r="0.55" fill="#3a9a3a"/><circle cx="163.8" cy="468.4" r="3.1" fill="#fff" stroke="#3a9a3a" stroke-width="1.05"/><circle cx="163.8" cy="468.4" r="0.55" fill="#3a9a3a"/><circle cx="169.4" cy="467.6" r="3.1" fill="#fff" stroke="#3a9a3a" stroke-width="1.05"/><circle cx="169.4" cy="467.6" r="0.55" fill="#3a9a3a"/><circle cx="175" cy="465.5" r="3.1" fill="#fff" stroke="#3a9a3a" stroke-width="1.05"/><circle cx="175" cy="465.5" r="0.55" fill="#3a9a3a"/><circle cx="180.6" cy="462" r="3.1" fill="#fff" stroke="#3a9a3a" stroke-width="1.05"/><circle cx="180.6" cy="462" r="0.55" fill="#3a9a3a"/><circle cx="186.2" cy="465.6" r="3.1" fill="#fff" stroke="#3a9a3a" stroke-width="1.05"/><circle cx="186.2" cy="465.6" r="0.55" fill="#3a9a3a"/><circle cx="191.8" cy="467" r="3.1" fill="#fff" stroke="#3a9a3a" stroke-width="1.05"/><circle cx="191.8" cy="467" r="0.55" fill="#3a9a3a"/><circle cx="197.4" cy="467.6" r="3.1" fill="#fff" stroke="#3a9a3a" stroke-width="1.05"/><circle cx="197.4" cy="467.6" r="0.55" fill="#3a9a3a"/><circle cx="203" cy="467" r="3.1" fill="#fff" stroke="#3a9a3a" stroke-width="1.05"/><circle cx="203" cy="467" r="0.55" fill="#3a9a3a"/><circle cx="208.6" cy="466.4" r="3.1" fill="#fff" stroke="#3a9a3a" stroke-width="1.05"/><circle cx="208.6" cy="466.4" r="0.55" fill="#3a9a3a"/><circle cx="214.2" cy="466" r="3.1" fill="#fff" stroke="#3a9a3a" stroke-width="1.05"/><circle cx="214.2" cy="466" r="0.55" fill="#3a9a3a"/><circle cx="219.8" cy="465.6" r="3.1" fill="#fff" stroke="#3a9a3a" stroke-width="1.05"/><circle cx="219.8" cy="465.6" r="0.55" fill="#3a9a3a"/><circle cx="225.4" cy="465" r="3.1" fill="#fff" stroke="#3a9a3a" stroke-width="1.05"/><circle cx="225.4" cy="465" r="0.55" fill="#3a9a3a"/><circle cx="231" cy="464" r="3.1" fill="#fff" stroke="#3a9a3a" stroke-width="1.05"/><circle cx="231" cy="464" r="0.55" fill="#3a9a3a"/><circle cx="236.6" cy="462.8" r="3.1" fill="#fff" stroke="#3a9a3a" stroke-width="1.05"/><circle cx="236.6" cy="462.8" r="0.55" fill="#3a9a3a"/><circle cx="242.2" cy="460.5" r="3.1" fill="#fff" stroke="#3a9a3a" stroke-width="1.05"/><circle cx="242.2" cy="460.5" r="0.55" fill="#3a9a3a"/><circle cx="247.8" cy="464.4" r="3.1" fill="#fff" stroke="#3a9a3a" stroke-width="1.05"/><circle cx="247.8" cy="464.4" r="0.55" fill="#3a9a3a"/><circle cx="253.4" cy="465" r="3.1" fill="#fff" stroke="#3a9a3a" stroke-width="1.05"/><circle cx="253.4" cy="465" r="0.55" fill="#3a9a3a"/><circle cx="259" cy="465" r="3.1" fill="#fff" stroke="#3a9a3a" stroke-width="1.05"/><circle cx="259" cy="465" r="0.55" fill="#3a9a3a"/><circle cx="264.6" cy="465" r="3.1" fill="#fff" stroke="#3a9a3a" stroke-width="1.05"/><circle cx="264.6" cy="465" r="0.55" fill="#3a9a3a"/><circle cx="270.2" cy="465" r="3.1" fill="#fff" stroke="#3a9a3a" stroke-width="1.05"/><circle cx="270.2" cy="465" r="0.55" fill="#3a9a3a"/><circle cx="275.8" cy="465" r="3.1" fill="#fff" stroke="#3a9a3a" stroke-width="1.05"/><circle cx="275.8" cy="465" r="0.55" fill="#3a9a3a"/><circle cx="281.4" cy="465" r="3.1" fill="#fff" stroke="#3a9a3a" stroke-width="1.05"/><circle cx="281.4" cy="465" r="0.55" fill="#3a9a3a"/><circle cx="287" cy="465" r="3.1" fill="#fff" stroke="#3a9a3a" stroke-width="1.05"/><circle cx="287" cy="465" r="0.55" fill="#3a9a3a"/><circle cx="292.6" cy="465.1" r="3.1" fill="#fff" stroke="#3a9a3a" stroke-width="1.05"/><circle cx="292.6" cy="465.1" r="0.55" fill="#3a9a3a"/><circle cx="298.2" cy="464.8" r="3.1" fill="#fff" stroke="#3a9a3a" stroke-width="1.05"/><circle cx="298.2" cy="464.8" r="0.55" fill="#3a9a3a"/><circle cx="303.8" cy="465.1" r="3.1" fill="#fff" stroke="#3a9a3a" stroke-width="1.05"/><circle cx="303.8" cy="465.1" r="0.55" fill="#3a9a3a"/><circle cx="309.4" cy="466" r="3.1" fill="#fff" stroke="#3a9a3a" stroke-width="1.05"/><circle cx="309.4" cy="466" r="0.55" fill="#3a9a3a"/><circle cx="315" cy="467.2" r="3.1" fill="#fff" stroke="#3a9a3a" stroke-width="1.05"/><circle cx="315" cy="467.2" r="0.55" fill="#3a9a3a"/><circle cx="320.6" cy="467.7" r="3.1" fill="#fff" stroke="#3a9a3a" stroke-width="1.05"/><circle cx="320.6" cy="467.7" r="0.55" fill="#3a9a3a"/><circle cx="326.2" cy="468.6" r="3.1" fill="#fff" stroke="#3a9a3a" stroke-width="1.05"/><circle cx="326.2" cy="468.6" r="0.55" fill="#3a9a3a"/><circle cx="331.8" cy="469.1" r="3.1" fill="#fff" stroke="#3a9a3a" stroke-width="1.05"/><circle cx="331.8" cy="469.1" r="0.55" fill="#3a9a3a"/><circle cx="337.4" cy="469.4" r="3.1" fill="#fff" stroke="#3a9a3a" stroke-width="1.05"/><circle cx="337.4" cy="469.4" r="0.55" fill="#3a9a3a"/><circle cx="57.4" cy="475.6" r="3.1" fill="#fff" stroke="#2a2aa0" stroke-width="1.05"/><circle cx="57.4" cy="475.6" r="0.55" fill="#2a2aa0"/><circle cx="63" cy="475.6" r="3.1" fill="#fff" stroke="#2a2aa0" stroke-width="1.05"/><circle cx="63" cy="475.6" r="0.55" fill="#2a2aa0"/><circle cx="68.6" cy="475.6" r="3.1" fill="#fff" stroke="#2a2aa0" stroke-width="1.05"/><circle cx="68.6" cy="475.6" r="0.55" fill="#2a2aa0"/><circle cx="74.2" cy="475.6" r="3.1" fill="#fff" stroke="#2a2aa0" stroke-width="1.05"/><circle cx="74.2" cy="475.6" r="0.55" fill="#2a2aa0"/><circle cx="79.8" cy="475.6" r="3.1" fill="#fff" stroke="#2a2aa0" stroke-width="1.05"/><circle cx="79.8" cy="475.6" r="0.55" fill="#2a2aa0"/><circle cx="85.4" cy="475.6" r="3.1" fill="#fff" stroke="#2a2aa0" stroke-width="1.05"/><circle cx="85.4" cy="475.6" r="0.55" fill="#2a2aa0"/><circle cx="91" cy="474.4" r="3.1" fill="#fff" stroke="#2a2aa0" stroke-width="1.05"/><circle cx="91" cy="474.4" r="0.55" fill="#2a2aa0"/><circle cx="96.6" cy="470.4" r="3.1" fill="#fff" stroke="#2a2aa0" stroke-width="1.05"/><circle cx="96.6" cy="470.4" r="0.55" fill="#2a2aa0"/><circle cx="102.2" cy="460" r="3.1" fill="#fff" stroke="#2a2aa0" stroke-width="1.05"/><circle cx="102.2" cy="460" r="0.55" fill="#2a2aa0"/><circle cx="107.8" cy="454.4" r="3.1" fill="#fff" stroke="#2a2aa0" stroke-width="1.05"/><circle cx="107.8" cy="454.4" r="0.55" fill="#2a2aa0"/><circle cx="113.4" cy="458.4" r="3.1" fill="#fff" stroke="#2a2aa0" stroke-width="1.05"/><circle cx="113.4" cy="458.4" r="0.55" fill="#2a2aa0"/><circle cx="119" cy="452.8" r="3.1" fill="#fff" stroke="#2a2aa0" stroke-width="1.05"/><circle cx="119" cy="452.8" r="0.55" fill="#2a2aa0"/><circle cx="124.6" cy="448.8" r="3.1" fill="#fff" stroke="#2a2aa0" stroke-width="1.05"/><circle cx="124.6" cy="448.8" r="0.55" fill="#2a2aa0"/><circle cx="130.2" cy="449.6" r="3.1" fill="#fff" stroke="#2a2aa0" stroke-width="1.05"/><circle cx="130.2" cy="449.6" r="0.55" fill="#2a2aa0"/><circle cx="135.8" cy="445.6" r="3.1" fill="#fff" stroke="#2a2aa0" stroke-width="1.05"/><circle cx="135.8" cy="445.6" r="0.55" fill="#2a2aa0"/><circle cx="141.4" cy="442" r="3.1" fill="#fff" stroke="#2a2aa0" stroke-width="1.05"/><circle cx="141.4" cy="442" r="0.55" fill="#2a2aa0"/><circle cx="147" cy="445.6" r="3.1" fill="#fff" stroke="#2a2aa0" stroke-width="1.05"/><circle cx="147" cy="445.6" r="0.55" fill="#2a2aa0"/><circle cx="152.6" cy="439.6" r="3.1" fill="#fff" stroke="#2a2aa0" stroke-width="1.05"/><circle cx="152.6" cy="439.6" r="0.55" fill="#2a2aa0"/><circle cx="158.2" cy="443.6" r="3.1" fill="#fff" stroke="#2a2aa0" stroke-width="1.05"/><circle cx="158.2" cy="443.6" r="0.55" fill="#2a2aa0"/><circle cx="163.8" cy="441" r="3.1" fill="#fff" stroke="#2a2aa0" stroke-width="1.05"/><circle cx="163.8" cy="441" r="0.55" fill="#2a2aa0"/><circle cx="169.4" cy="442.6" r="3.1" fill="#fff" stroke="#2a2aa0" stroke-width="1.05"/><circle cx="169.4" cy="442.6" r="0.55" fill="#2a2aa0"/><circle cx="175" cy="440.2" r="3.1" fill="#fff" stroke="#2a2aa0" stroke-width="1.05"/><circle cx="175" cy="440.2" r="0.55" fill="#2a2aa0"/><circle cx="180.6" cy="443.5" r="3.1" fill="#fff" stroke="#2a2aa0" stroke-width="1.05"/><circle cx="180.6" cy="443.5" r="0.55" fill="#2a2aa0"/><circle cx="186.2" cy="444.4" r="3.1" fill="#fff" stroke="#2a2aa0" stroke-width="1.05"/><circle cx="186.2" cy="444.4" r="0.55" fill="#2a2aa0"/><circle cx="191.8" cy="446" r="3.1" fill="#fff" stroke="#2a2aa0" stroke-width="1.05"/><circle cx="191.8" cy="446" r="0.55" fill="#2a2aa0"/><circle cx="197.4" cy="447.6" r="3.1" fill="#fff" stroke="#2a2aa0" stroke-width="1.05"/><circle cx="197.4" cy="447.6" r="0.55" fill="#2a2aa0"/><circle cx="203" cy="447.6" r="3.1" fill="#fff" stroke="#2a2aa0" stroke-width="1.05"/><circle cx="203" cy="447.6" r="0.55" fill="#2a2aa0"/><circle cx="208.6" cy="451" r="3.1" fill="#fff" stroke="#2a2aa0" stroke-width="1.05"/><circle cx="208.6" cy="451" r="0.55" fill="#2a2aa0"/><circle cx="214.2" cy="452.4" r="3.1" fill="#fff" stroke="#2a2aa0" stroke-width="1.05"/><circle cx="214.2" cy="452.4" r="0.55" fill="#2a2aa0"/><circle cx="219.8" cy="453" r="3.1" fill="#fff" stroke="#2a2aa0" stroke-width="1.05"/><circle cx="219.8" cy="453" r="0.55" fill="#2a2aa0"/><circle cx="225.4" cy="454" r="3.1" fill="#fff" stroke="#2a2aa0" stroke-width="1.05"/><circle cx="225.4" cy="454" r="0.55" fill="#2a2aa0"/><circle cx="231" cy="456.4" r="3.1" fill="#fff" stroke="#2a2aa0" stroke-width="1.05"/><circle cx="231" cy="456.4" r="0.55" fill="#2a2aa0"/><circle cx="236.6" cy="456" r="3.1" fill="#fff" stroke="#2a2aa0" stroke-width="1.05"/><circle cx="236.6" cy="456" r="0.55" fill="#2a2aa0"/><circle cx="242.2" cy="455.5" r="3.1" fill="#fff" stroke="#2a2aa0" stroke-width="1.05"/><circle cx="242.2" cy="455.5" r="0.55" fill="#2a2aa0"/><circle cx="247.8" cy="457.6" r="3.1" fill="#fff" stroke="#2a2aa0" stroke-width="1.05"/><circle cx="247.8" cy="457.6" r="0.55" fill="#2a2aa0"/><circle cx="253.4" cy="458.4" r="3.1" fill="#fff" stroke="#2a2aa0" stroke-width="1.05"/><circle cx="253.4" cy="458.4" r="0.55" fill="#2a2aa0"/><circle cx="259" cy="459" r="3.1" fill="#fff" stroke="#2a2aa0" stroke-width="1.05"/><circle cx="259" cy="459" r="0.55" fill="#2a2aa0"/><circle cx="264.6" cy="459" r="3.1" fill="#fff" stroke="#2a2aa0" stroke-width="1.05"/><circle cx="264.6" cy="459" r="0.55" fill="#2a2aa0"/><circle cx="270.2" cy="459.6" r="3.1" fill="#fff" stroke="#2a2aa0" stroke-width="1.05"/><circle cx="270.2" cy="459.6" r="0.55" fill="#2a2aa0"/><circle cx="275.8" cy="459.6" r="3.1" fill="#fff" stroke="#2a2aa0" stroke-width="1.05"/><circle cx="275.8" cy="459.6" r="0.55" fill="#2a2aa0"/><circle cx="281.4" cy="460" r="3.1" fill="#fff" stroke="#2a2aa0" stroke-width="1.05"/><circle cx="281.4" cy="460" r="0.55" fill="#2a2aa0"/><circle cx="287" cy="460" r="3.1" fill="#fff" stroke="#2a2aa0" stroke-width="1.05"/><circle cx="287" cy="460" r="0.55" fill="#2a2aa0"/><circle cx="292.6" cy="460.2" r="3.1" fill="#fff" stroke="#2a2aa0" stroke-width="1.05"/><circle cx="292.6" cy="460.2" r="0.55" fill="#2a2aa0"/><circle cx="298.2" cy="460.4" r="3.1" fill="#fff" stroke="#2a2aa0" stroke-width="1.05"/><circle cx="298.2" cy="460.4" r="0.55" fill="#2a2aa0"/><circle cx="303.8" cy="460" r="3.1" fill="#fff" stroke="#2a2aa0" stroke-width="1.05"/><circle cx="303.8" cy="460" r="0.55" fill="#2a2aa0"/><circle cx="309.4" cy="460" r="3.1" fill="#fff" stroke="#2a2aa0" stroke-width="1.05"/><circle cx="309.4" cy="460" r="0.55" fill="#2a2aa0"/><circle cx="315" cy="459.7" r="3.1" fill="#fff" stroke="#2a2aa0" stroke-width="1.05"/><circle cx="315" cy="459.7" r="0.55" fill="#2a2aa0"/><circle cx="320.6" cy="459.7" r="3.1" fill="#fff" stroke="#2a2aa0" stroke-width="1.05"/><circle cx="320.6" cy="459.7" r="0.55" fill="#2a2aa0"/><circle cx="326.2" cy="459.5" r="3.1" fill="#fff" stroke="#2a2aa0" stroke-width="1.05"/><circle cx="326.2" cy="459.5" r="0.55" fill="#2a2aa0"/><circle cx="331.8" cy="459.1" r="3.1" fill="#fff" stroke="#2a2aa0" stroke-width="1.05"/><circle cx="331.8" cy="459.1" r="0.55" fill="#2a2aa0"/><circle cx="337.4" cy="458.6" r="3.1" fill="#fff" stroke="#2a2aa0" stroke-width="1.05"/><circle cx="337.4" cy="458.6" r="0.55" fill="#2a2aa0"/><path d="M63 453.6L67 457.6L63 461.6L59 457.6z" fill="#fff" stroke="#b83030" stroke-width="1.2"/><circle cx="63" cy="457.6" r="0.55" fill="#b83030"/><path d="M63 454.2L66.4 457.6L63 461L59.6 457.6z" fill="#fff" stroke="#2f8f2f" stroke-width="1.2"/><circle cx="63" cy="457.6" r="0.55" fill="#2f8f2f"/><path d="M68.6 276.1L72.6 280.1L68.6 284.1L64.6 280.1z" fill="#fff" stroke="#b83030" stroke-width="1.2"/><circle cx="68.6" cy="280.1" r="0.55" fill="#b83030"/><path d="M68.6 276.7L72 280.1L68.6 283.5L65.2 280.1z" fill="#fff" stroke="#2f8f2f" stroke-width="1.2"/><circle cx="68.6" cy="280.1" r="0.55" fill="#2f8f2f"/><path d="M74.2 326.4L78.2 330.4L74.2 334.4L70.2 330.4z" fill="#fff" stroke="#b83030" stroke-width="1.2"/><circle cx="74.2" cy="330.4" r="0.55" fill="#b83030"/><path d="M74.2 327L77.6 330.4L74.2 333.8L70.8 330.4z" fill="#fff" stroke="#2f8f2f" stroke-width="1.2"/><circle cx="74.2" cy="330.4" r="0.55" fill="#2f8f2f"/><path d="M79.8 307.5L83.8 311.5L79.8 315.5L75.8 311.5z" fill="#fff" stroke="#b83030" stroke-width="1.2"/><circle cx="79.8" cy="311.5" r="0.55" fill="#b83030"/><path d="M79.8 308.1L83.2 311.5L79.8 314.9L76.4 311.5z" fill="#fff" stroke="#2f8f2f" stroke-width="1.2"/><circle cx="79.8" cy="311.5" r="0.55" fill="#2f8f2f"/><path d="M85.4 306.3L89.4 310.3L85.4 314.3L81.4 310.3z" fill="#fff" stroke="#b83030" stroke-width="1.2"/><circle cx="85.4" cy="310.3" r="0.55" fill="#b83030"/><path d="M85.4 306.9L88.8 310.3L85.4 313.7L82 310.3z" fill="#fff" stroke="#2f8f2f" stroke-width="1.2"/><circle cx="85.4" cy="310.3" r="0.55" fill="#2f8f2f"/><path d="M91.4 376.9L95.2 380.7L91.4 384.5L87.6 380.7z" fill="#fff" stroke="#c83030" stroke-width="1.2"/><circle cx="91.4" cy="380.7" r="0.55" fill="#c83030"/><circle cx="91" cy="382.1" r="3.2" fill="#fff" stroke="#2f8f2f" stroke-width="1.2"/><circle cx="91" cy="382.1" r="0.55" fill="#2f8f2f"/><path d="M96.6 424.5L100.1 428L96.6 431.5L93.1 428z" fill="#fff" stroke="#d43c3c" stroke-width="1.1"/><circle cx="96.6" cy="428" r="0.55" fill="#d43c3c"/><path d="M102.2 425.5L105.7 429L102.2 432.5L98.7 429z" fill="#fff" stroke="#d43c3c" stroke-width="1.1"/><circle cx="102.2" cy="429" r="0.55" fill="#d43c3c"/><path d="M107.8 428.1L111.3 431.6L107.8 435.1L104.3 431.6z" fill="#fff" stroke="#d43c3c" stroke-width="1.1"/><circle cx="107.8" cy="431.6" r="0.55" fill="#d43c3c"/><path d="M113.4 442.5L116.9 446L113.4 449.5L109.9 446z" fill="#fff" stroke="#d43c3c" stroke-width="1.1"/><circle cx="113.4" cy="446" r="0.55" fill="#d43c3c"/><path d="M119 438.9L122.5 442.4L119 445.9L115.5 442.4z" fill="#fff" stroke="#d43c3c" stroke-width="1.1"/><circle cx="119" cy="442.4" r="0.55" fill="#d43c3c"/><path d="M124.6 439.1L128.1 442.6L124.6 446.1L121.1 442.6z" fill="#fff" stroke="#d43c3c" stroke-width="1.1"/><circle cx="124.6" cy="442.6" r="0.55" fill="#d43c3c"/><path d="M130.2 440.1L133.7 443.6L130.2 447.1L126.7 443.6z" fill="#fff" stroke="#d43c3c" stroke-width="1.1"/><circle cx="130.2" cy="443.6" r="0.55" fill="#d43c3c"/><path d="M135.8 436.5L139.3 440L135.8 443.5L132.3 440z" fill="#fff" stroke="#d43c3c" stroke-width="1.1"/><circle cx="135.8" cy="440" r="0.55" fill="#d43c3c"/><path d="M141.4 432.9L144.9 436.4L141.4 439.9L137.9 436.4z" fill="#fff" stroke="#d43c3c" stroke-width="1.1"/><circle cx="141.4" cy="436.4" r="0.55" fill="#d43c3c"/><path d="M147 437.5L150.5 441L147 444.5L143.5 441z" fill="#fff" stroke="#d43c3c" stroke-width="1.1"/><circle cx="147" cy="441" r="0.55" fill="#d43c3c"/><path d="M152.6 430.5L156.1 434L152.6 437.5L149.1 434z" fill="#fff" stroke="#d43c3c" stroke-width="1.1"/><circle cx="152.6" cy="434" r="0.55" fill="#d43c3c"/><path d="M158.2 433.7L161.7 437.2L158.2 440.7L154.7 437.2z" fill="#fff" stroke="#d43c3c" stroke-width="1.1"/><circle cx="158.2" cy="437.2" r="0.55" fill="#d43c3c"/><path d="M163.8 430.1L167.3 433.6L163.8 437.1L160.3 433.6z" fill="#fff" stroke="#d43c3c" stroke-width="1.1"/><circle cx="163.8" cy="433.6" r="0.55" fill="#d43c3c"/><path d="M169.4 430.5L172.9 434L169.4 437.5L165.9 434z" fill="#fff" stroke="#d43c3c" stroke-width="1.1"/><circle cx="169.4" cy="434" r="0.55" fill="#d43c3c"/><path d="M175 426.1L178.5 429.6L175 433.1L171.5 429.6z" fill="#fff" stroke="#d43c3c" stroke-width="1.1"/><circle cx="175" cy="429.6" r="0.55" fill="#d43c3c"/><path d="M180.6 426.5L184.1 430L180.6 433.5L177.1 430z" fill="#fff" stroke="#d43c3c" stroke-width="1.1"/><circle cx="180.6" cy="430" r="0.55" fill="#d43c3c"/><path d="M186.2 430.1L189.7 433.6L186.2 437.1L182.7 433.6z" fill="#fff" stroke="#d43c3c" stroke-width="1.1"/><circle cx="186.2" cy="433.6" r="0.55" fill="#d43c3c"/><path d="M191.8 432.5L195.3 436L191.8 439.5L188.3 436z" fill="#fff" stroke="#d43c3c" stroke-width="1.1"/><circle cx="191.8" cy="436" r="0.55" fill="#d43c3c"/><path d="M197.4 434.1L200.9 437.6L197.4 441.1L193.9 437.6z" fill="#fff" stroke="#d43c3c" stroke-width="1.1"/><circle cx="197.4" cy="437.6" r="0.55" fill="#d43c3c"/><path d="M203 433.5L206.5 437L203 440.5L199.5 437z" fill="#fff" stroke="#d43c3c" stroke-width="1.1"/><circle cx="203" cy="437" r="0.55" fill="#d43c3c"/><path d="M208.6 437.5L212.1 441L208.6 444.5L205.1 441z" fill="#fff" stroke="#d43c3c" stroke-width="1.1"/><circle cx="208.6" cy="441" r="0.55" fill="#d43c3c"/><path d="M214.2 437.5L217.7 441L214.2 444.5L210.7 441z" fill="#fff" stroke="#d43c3c" stroke-width="1.1"/><circle cx="214.2" cy="441" r="0.55" fill="#d43c3c"/><path d="M219.8 437.5L223.3 441L219.8 444.5L216.3 441z" fill="#fff" stroke="#d43c3c" stroke-width="1.1"/><circle cx="219.8" cy="441" r="0.55" fill="#d43c3c"/><path d="M225.4 438.1L228.9 441.6L225.4 445.1L221.9 441.6z" fill="#fff" stroke="#d43c3c" stroke-width="1.1"/><circle cx="225.4" cy="441.6" r="0.55" fill="#d43c3c"/><path d="M231 438.5L234.5 442L231 445.5L227.5 442z" fill="#fff" stroke="#d43c3c" stroke-width="1.1"/><circle cx="231" cy="442" r="0.55" fill="#d43c3c"/><path d="M236.6 437L240.1 440.5L236.6 444L233.1 440.5z" fill="#fff" stroke="#d43c3c" stroke-width="1.1"/><circle cx="236.6" cy="440.5" r="0.55" fill="#d43c3c"/><path d="M242.2 435L245.7 438.5L242.2 442L238.7 438.5z" fill="#fff" stroke="#d43c3c" stroke-width="1.1"/><circle cx="242.2" cy="438.5" r="0.55" fill="#d43c3c"/><path d="M247.8 440.1L251.3 443.6L247.8 447.1L244.3 443.6z" fill="#fff" stroke="#d43c3c" stroke-width="1.1"/><circle cx="247.8" cy="443.6" r="0.55" fill="#d43c3c"/><path d="M253.4 442.1L256.9 445.6L253.4 449.1L249.9 445.6z" fill="#fff" stroke="#d43c3c" stroke-width="1.1"/><circle cx="253.4" cy="445.6" r="0.55" fill="#d43c3c"/><path d="M259 442.5L262.5 446L259 449.5L255.5 446z" fill="#fff" stroke="#d43c3c" stroke-width="1.1"/><circle cx="259" cy="446" r="0.55" fill="#d43c3c"/><path d="M264.6 442.1L268.1 445.6L264.6 449.1L261.1 445.6z" fill="#fff" stroke="#d43c3c" stroke-width="1.1"/><circle cx="264.6" cy="445.6" r="0.55" fill="#d43c3c"/><path d="M270.2 441.5L273.7 445L270.2 448.5L266.7 445z" fill="#fff" stroke="#d43c3c" stroke-width="1.1"/><circle cx="270.2" cy="445" r="0.55" fill="#d43c3c"/><path d="M275.8 441.5L279.3 445L275.8 448.5L272.3 445z" fill="#fff" stroke="#d43c3c" stroke-width="1.1"/><circle cx="275.8" cy="445" r="0.55" fill="#d43c3c"/><path d="M281.4 442.1L284.9 445.6L281.4 449.1L277.9 445.6z" fill="#fff" stroke="#d43c3c" stroke-width="1.1"/><circle cx="281.4" cy="445.6" r="0.55" fill="#d43c3c"/><path d="M287 442.1L290.5 445.6L287 449.1L283.5 445.6z" fill="#fff" stroke="#d43c3c" stroke-width="1.1"/><circle cx="287" cy="445.6" r="0.55" fill="#d43c3c"/><path d="M292.6 442.9L296.1 446.4L292.6 449.9L289.1 446.4z" fill="#fff" stroke="#d43c3c" stroke-width="1.1"/><circle cx="292.6" cy="446.4" r="0.55" fill="#d43c3c"/><path d="M298.2 443L301.7 446.5L298.2 450L294.7 446.5z" fill="#fff" stroke="#d43c3c" stroke-width="1.1"/><circle cx="298.2" cy="446.5" r="0.55" fill="#d43c3c"/><path d="M303.8 439.3L307.3 442.8L303.8 446.3L300.3 442.8z" fill="#fff" stroke="#d43c3c" stroke-width="1.1"/><circle cx="303.8" cy="442.8" r="0.55" fill="#d43c3c"/><path d="M309.4 441.4L312.9 444.9L309.4 448.4L305.9 444.9z" fill="#fff" stroke="#d43c3c" stroke-width="1.1"/><circle cx="309.4" cy="444.9" r="0.55" fill="#d43c3c"/><path d="M315 442.5L318.5 446L315 449.5L311.5 446z" fill="#fff" stroke="#d43c3c" stroke-width="1.1"/><circle cx="315" cy="446" r="0.55" fill="#d43c3c"/><path d="M320.6 443.1L324.1 446.6L320.6 450.1L317.1 446.6z" fill="#fff" stroke="#d43c3c" stroke-width="1.1"/><circle cx="320.6" cy="446.6" r="0.55" fill="#d43c3c"/><path d="M326.2 443.6L329.7 447.1L326.2 450.6L322.7 447.1z" fill="#fff" stroke="#d43c3c" stroke-width="1.1"/><circle cx="326.2" cy="447.1" r="0.55" fill="#d43c3c"/><path d="M331.8 444.5L335.3 448L331.8 451.5L328.3 448z" fill="#fff" stroke="#d43c3c" stroke-width="1.1"/><circle cx="331.8" cy="448" r="0.55" fill="#d43c3c"/><path d="M337.4 444.5L340.9 448L337.4 451.5L333.9 448z" fill="#fff" stroke="#d43c3c" stroke-width="1.1"/><circle cx="337.4" cy="448" r="0.55" fill="#d43c3c"/></g><rect x="57.4" y="250" width="287.6" height="225.6" fill="none" stroke="#3c3c3c" stroke-width="1.35"/><line x1="53" y1="475.6" x2="57.4" y2="475.6" stroke="#3c3c3c" stroke-width="1.2"/><line x1="340.8" y1="475.6" x2="345" y2="475.6" stroke="#3c3c3c" stroke-width="1.2"/><text x="40.81 45.86 53.14" y="479.7" font-family="Liberation Serif" font-size="12" font-weight="normal" fill="#303030" text-anchor="middle" transform="scale(0.9 1)" >0.0</text><line x1="53" y1="438" x2="57.4" y2="438" stroke="#3c3c3c" stroke-width="1.2"/><line x1="340.8" y1="438" x2="345" y2="438" stroke="#3c3c3c" stroke-width="1.2"/><text x="40.81 45.86 53.14" y="442.1" font-family="Liberation Serif" font-size="12" font-weight="normal" fill="#303030" text-anchor="middle" transform="scale(0.9 1)" >0.1</text><line x1="53" y1="400.4" x2="57.4" y2="400.4" stroke="#3c3c3c" stroke-width="1.2"/><line x1="340.8" y1="400.4" x2="345" y2="400.4" stroke="#3c3c3c" stroke-width="1.2"/><text x="40.81 45.86 53.14" y="404.5" font-family="Liberation Serif" font-size="12" font-weight="normal" fill="#303030" text-anchor="middle" transform="scale(0.9 1)" >0.2</text><line x1="53" y1="362.8" x2="57.4" y2="362.8" stroke="#3c3c3c" stroke-width="1.2"/><line x1="340.8" y1="362.8" x2="345" y2="362.8" stroke="#3c3c3c" stroke-width="1.2"/><text x="40.81 45.86 53.14" y="366.9" font-family="Liberation Serif" font-size="12" font-weight="normal" fill="#303030" text-anchor="middle" transform="scale(0.9 1)" >0.3</text><line x1="53" y1="325.2" x2="57.4" y2="325.2" stroke="#3c3c3c" stroke-width="1.2"/><line x1="340.8" y1="325.2" x2="345" y2="325.2" stroke="#3c3c3c" stroke-width="1.2"/><text x="40.81 45.86 53.14" y="329.3" font-family="Liberation Serif" font-size="12" font-weight="normal" fill="#303030" text-anchor="middle" transform="scale(0.9 1)" >0.4</text><line x1="53" y1="287.6" x2="57.4" y2="287.6" stroke="#3c3c3c" stroke-width="1.2"/><line x1="340.8" y1="287.6" x2="345" y2="287.6" stroke="#3c3c3c" stroke-width="1.2"/><text x="40.81 45.86 53.14" y="291.7" font-family="Liberation Serif" font-size="12" font-weight="normal" fill="#303030" text-anchor="middle" transform="scale(0.9 1)" >0.5</text><line x1="53" y1="250" x2="57.4" y2="250" stroke="#3c3c3c" stroke-width="1.2"/><line x1="340.8" y1="250" x2="345" y2="250" stroke="#3c3c3c" stroke-width="1.2"/><text x="40.81 45.86 53.14" y="254.1" font-family="Liberation Serif" font-size="12" font-weight="normal" fill="#303030" text-anchor="middle" transform="scale(0.9 1)" >0.6</text><line x1="55" y1="456.8" x2="57.4" y2="456.8" stroke="#3c3c3c" stroke-width="1.1"/><line x1="342.6" y1="456.8" x2="345" y2="456.8" stroke="#3c3c3c" stroke-width="1.1"/><line x1="55" y1="419.2" x2="57.4" y2="419.2" stroke="#3c3c3c" stroke-width="1.1"/><line x1="342.6" y1="419.2" x2="345" y2="419.2" stroke="#3c3c3c" stroke-width="1.1"/><line x1="55" y1="381.6" x2="57.4" y2="381.6" stroke="#3c3c3c" stroke-width="1.1"/><line x1="342.6" y1="381.6" x2="345" y2="381.6" stroke="#3c3c3c" stroke-width="1.1"/><line x1="55" y1="344" x2="57.4" y2="344" stroke="#3c3c3c" stroke-width="1.1"/><line x1="342.6" y1="344" x2="345" y2="344" stroke="#3c3c3c" stroke-width="1.1"/><line x1="55" y1="306.4" x2="57.4" y2="306.4" stroke="#3c3c3c" stroke-width="1.1"/><line x1="342.6" y1="306.4" x2="345" y2="306.4" stroke="#3c3c3c" stroke-width="1.1"/><line x1="55" y1="268.8" x2="57.4" y2="268.8" stroke="#3c3c3c" stroke-width="1.1"/><line x1="342.6" y1="268.8" x2="345" y2="268.8" stroke="#3c3c3c" stroke-width="1.1"/><g transform="translate(22.2 364.2) rotate(-90)" fill="#3c3c3c" font-family="Liberation Serif"><text x="-64.22 -57.86 -51.5 -45.14 -38.78 -32.42 -26.06 -19.7 -13.34 -6.98" y="0" font-size="13.6" text-anchor="middle">Scattering</text><text x="7.18 13.54 19.9 26.26" y="0" font-size="13.6" text-anchor="middle">rate</text><text x="39.8" y="-1.3" font-size="13.6" text-anchor="middle">(</text><text x="45.9 51.8" y="0" font-size="13.6" text-anchor="middle">ps</text><text x="56.6 60.6" y="-5.6" font-size="8" text-anchor="middle">-1</text><text x="65.0" y="-1.3" font-size="13.6" text-anchor="middle">)</text></g><text x="4.2" y="252.9" font-family="Liberation Serif" font-size="14" fill="#303030">(</text><text x="11.6" y="253.9" font-family="Liberation Serif" font-size="16" fill="#303030">b</text><text x="21.9" y="252.9" font-family="Liberation Serif" font-size="14" fill="#303030">)</text><text x="52.8" y="486.6" font-family="Liberation Serif" font-size="13.2" fill="#303030">&#915;</text><text x="329.9" y="486.6" font-family="Liberation Serif" font-size="12.5" fill="#303030">M</text><text x="90.3" y="270.1" font-family="Liberation Serif" font-size="11.8" font-weight="bold" fill="#111">Graphene</text><line x1="236.8" y1="281.8" x2="260" y2="281.8" stroke="#d42a2a" stroke-width="1.2" stroke-dasharray="3.2 1.8"/><path d="M248 278.1L251.7 281.8L248 285.5L244.3 281.8z" fill="#fff" stroke="#d42a2a" stroke-width="1.1"/><circle cx="248" cy="281.8" r="0.55" fill="#d42a2a"/><text x="333.72 340.41" y="285.6" font-family="Liberation Sans" font-size="10" font-weight="normal" fill="#111111" text-anchor="middle" transform="scale(0.8 1)" stroke="#111111" stroke-width="0.2">ZA</text><text x="321.62 327.7 333.78 339.86 345.94" y="285.6" font-family="Liberation Serif" font-size="12.2" font-weight="normal" fill="#c04848" text-anchor="middle" transform="scale(0.88 1)" >total</text><line x1="236.8" y1="295.4" x2="260" y2="295.4" stroke="#2e8b2e" stroke-width="1.2" stroke-dasharray="3.2 1.6 1.1 1.6"/><circle cx="248" cy="295.4" r="3.2" fill="#fff" stroke="#2e8b2e" stroke-width="1.05"/><circle cx="248" cy="295.4" r="0.55" fill="#2e8b2e"/><text x="333.72 340.41 347.09 353.78 360.47" y="299.2" font-family="Liberation Sans" font-size="10" font-weight="normal" fill="#3f9a3f" text-anchor="middle" transform="scale(0.8 1)" >ZA+ZA</text><line x1="291.55" y1="295.7" x2="300.15" y2="295.7" stroke="#1a1a1a" stroke-width="1.05"/><path d="M298.65 293.3L301.65 295.7L298.65 298.1L299.55 295.7z" fill="#1a1a1a"/><text x="380.53 387.22" y="299.2" font-family="Liberation Sans" font-size="10" font-weight="normal" fill="#3f9a3f" text-anchor="middle" transform="scale(0.8 1)" >TA</text><line x1="236.8" y1="309.6" x2="260" y2="309.6" stroke="#2a2aa0" stroke-width="1.2" stroke-dasharray="3.2 1.6 1.1 1.6"/><circle cx="248" cy="309.6" r="3.2" fill="#fff" stroke="#2a2aa0" stroke-width="1.05"/><circle cx="248" cy="309.6" r="0.55" fill="#2a2aa0"/><text x="333.72 340.41 347.09 353.78 360.47" y="313.4" font-family="Liberation Sans" font-size="10" font-weight="normal" fill="#5050a8" text-anchor="middle" transform="scale(0.8 1)" >ZA+ZA</text><line x1="291.55" y1="309.9" x2="300.15" y2="309.9" stroke="#1a1a1a" stroke-width="1.05"/><path d="M298.65 307.5L301.65 309.9L298.65 312.3L299.55 309.9z" fill="#1a1a1a"/><text x="380.53 387.22" y="313.4" font-family="Liberation Sans" font-size="10" font-weight="normal" fill="#5050a8" text-anchor="middle" transform="scale(0.8 1)" >LA</text><g clip-path="url(#cc)"><polyline points="57.3,719 64.43,719 71.56,719 78.69,719 85.82,719 92.95,719 100.08,719 107.21,719 114.34,719 121.47,719 128.6,716.5 135.73,715.8 142.86,715.2 149.99,714.9 157.12,714.9 164.25,714.9 171.38,714.9 178.51,714.9 185.64,714.9 192.77,714.9 199.9,714.9 207.03,714.9 214.16,714.9 221.29,714.9 228.42,714.9 235.55,714.9 242.68,714.9 249.81,714.9 256.94,714.9 264.07,714.9 271.2,714.9 278.33,714.9 285.46,714.9 292.59,714.9 299.72,714.9 306.85,714.9 313.98,714.9 321.11,714.9 328.24,714.9 335.37,714.9 342.5,714.9" fill="none" stroke="#cc80e4" stroke-width="1.1" stroke-dasharray="1.1 2.6" stroke-linecap="butt"/><polyline points="57.3,718 64.43,718 71.56,718 78.69,718 85.82,718 92.95,718 100.08,718 107.21,718 114.34,718 121.47,717.5 128.6,717 135.73,716 142.86,715 149.99,713.5 157.12,712.6 164.25,712 171.38,711.3 178.51,710.5 185.64,709.5 192.77,708.6 199.9,708.3 207.03,706.6 214.16,704.9 221.29,702.3 228.42,700.9 235.55,699.2 242.68,698.8 249.81,698.5 256.94,698.3 264.07,693.5 271.2,684 278.33,681.8 285.46,689.6 292.59,675.4 299.72,674.4 306.85,675.8 313.98,669.2 321.11,665 328.24,687.2 335.37,687.2 338,700 340,718" fill="none" stroke="#3a9a3a" stroke-width="1.2" stroke-dasharray="1.1 2.6" stroke-linecap="butt"/><polyline points="57.3,716.8 64.43,716.8 71.56,716.8 78.69,716.8 85.82,716.8 92.95,716.8 100.08,716.8 107.21,716.8 114.34,716.8 121.47,716.8 128.6,716.8 135.73,716.8 142.86,716.8 149.99,716.8 157.12,716.8 164.25,716.8 171.38,716.8 178.51,716.8 185.64,716.8 192.77,716.8 199.9,716.8 207.03,716.8 214.16,716.8 221.29,716.8 228.42,716.8 235.55,716.8 242.68,716.8 249.81,716.8 256.94,716.8 264.07,716.8 271.2,716.8 278.33,716.8 285.46,716.8 292.59,716.8 299.72,716.8 300.3,690 301.2,660 302.6,625 304,598 305.6,578 307.5,566 310.2,559.5 313.98,567.3 321.11,589 328.24,615.9 335.37,648.6 337.3,670 339,690 340.8,712 341.5,718" fill="none" stroke="#2a2a90" stroke-width="1.2" stroke-dasharray="1.1 2.6" stroke-linecap="butt"/><polyline points="57.3,717.2 64.43,717 71.56,717 78.69,717 85.82,716.9 92.95,716.8 100.08,716.6 107.21,716.4 114.34,716.1 121.47,715.6 128.6,714 135.73,712.8 142.86,712.4 149.99,711.4 157.12,709.4 164.25,708 171.38,707 178.51,706.5 185.64,705.8 192.77,703.5 199.9,700.4 207.03,697 214.16,695.8 221.29,693.7 228.42,692 235.55,690.6 242.68,690.2 249.81,689.6 256.94,688 264.07,682.8 271.2,670.2 278.33,667.6 285.46,674.3 292.59,659 299.72,657.9 300.8,640 301.8,615 302.8,590 303.8,560 304.8,535 305.8,517 307.2,505 309.5,499.5 313.98,497.2 321.11,512.9 328.24,558.6 335.37,591 337,612 338.8,645 342.5,677" fill="none" stroke="#d43c3c" stroke-width="1.2" stroke-dasharray="1.1 2.6" stroke-linecap="butt"/><path d="M249.81 711.4L252.91 714.5L249.81 717.6L246.71 714.5z" fill="#f4fff0" stroke="#98c040" stroke-width="1.2"/><path d="M256.94 710.5L260.04 713.6L256.94 716.7L253.84 713.6z" fill="#f4fff0" stroke="#98c040" stroke-width="1.2"/><path d="M264.07 709.9L267.17 713L264.07 716.1L260.97 713z" fill="#f4fff0" stroke="#98c040" stroke-width="1.2"/><path d="M271.2 709.5L274.3 712.6L271.2 715.7L268.1 712.6z" fill="#f4fff0" stroke="#98c040" stroke-width="1.2"/><path d="M278.33 709.3L281.43 712.4L278.33 715.5L275.23 712.4z" fill="#f4fff0" stroke="#98c040" stroke-width="1.2"/><path d="M285.46 709.1L288.56 712.2L285.46 715.3L282.36 712.2z" fill="#f4fff0" stroke="#98c040" stroke-width="1.2"/><path d="M292.59 708.9L295.69 712L292.59 715.1L289.49 712z" fill="#f4fff0" stroke="#98c040" stroke-width="1.2"/><path d="M299.72 708.5L302.82 711.6L299.72 714.7L296.62 711.6z" fill="#f4fff0" stroke="#98c040" stroke-width="1.2"/><path d="M306.85 708.3L309.95 711.4L306.85 714.5L303.75 711.4z" fill="#f4fff0" stroke="#98c040" stroke-width="1.2"/><path d="M313.98 707.9L317.08 711L313.98 714.1L310.88 711z" fill="#f4f43c" stroke="#d0d820" stroke-width="1.2"/><path d="M321.11 707.1L324.21 710.2L321.11 713.3L318.01 710.2z" fill="#f4f43c" stroke="#d0d820" stroke-width="1.2"/><path d="M328.24 706.7L331.34 709.8L328.24 712.9L325.14 709.8z" fill="#f4f43c" stroke="#d0d820" stroke-width="1.2"/><path d="M335.37 706.5L338.47 709.6L335.37 712.7L332.27 709.6z" fill="#f4f43c" stroke="#d0d820" stroke-width="1.2"/><path d="M342.5 706.1L345.6 709.2L342.5 712.3L339.4 709.2z" fill="#f4f43c" stroke="#d0d820" stroke-width="1.2"/><path d="M185.64 711.7L189.44 715.5L185.64 719.3L181.84 715.5z" fill="#eaffff" stroke="#8ae4ec" stroke-width="1.1"/><path d="M192.77 711L196.57 714.8L192.77 718.6L188.97 714.8z" fill="#eaffff" stroke="#8ae4ec" stroke-width="1.1"/><path d="M199.9 710.6L203.7 714.4L199.9 718.2L196.1 714.4z" fill="#eaffff" stroke="#8ae4ec" stroke-width="1.1"/><path d="M207.03 710.2L210.83 714L207.03 717.8L203.23 714z" fill="#eaffff" stroke="#8ae4ec" stroke-width="1.1"/><path d="M214.16 710.2L217.96 714L214.16 717.8L210.36 714z" fill="#eaffff" stroke="#8ae4ec" stroke-width="1.1"/><path d="M221.29 710.2L225.09 714L221.29 717.8L217.49 714z" fill="#eaffff" stroke="#8ae4ec" stroke-width="1.1"/><path d="M228.42 710.2L232.22 714L228.42 717.8L224.62 714z" fill="#eaffff" stroke="#8ae4ec" stroke-width="1.1"/><path d="M235.55 710.2L239.35 714L235.55 717.8L231.75 714z" fill="#eaffff" stroke="#8ae4ec" stroke-width="1.1"/><path d="M242.68 710.2L246.48 714L242.68 717.8L238.88 714z" fill="#eaffff" stroke="#8ae4ec" stroke-width="1.1"/><path d="M249.81 710.2L253.61 714L249.81 717.8L246.01 714z" fill="#eaffff" stroke="#8ae4ec" stroke-width="1.1"/><path d="M256.94 710.2L260.74 714L256.94 717.8L253.14 714z" fill="#eaffff" stroke="#8ae4ec" stroke-width="1.1"/><path d="M264.07 710.2L267.87 714L264.07 717.8L260.27 714z" fill="#eaffff" stroke="#8ae4ec" stroke-width="1.1"/><path d="M271.2 710.2L275 714L271.2 717.8L267.4 714z" fill="#eaffff" stroke="#8ae4ec" stroke-width="1.1"/><path d="M278.33 710.2L282.13 714L278.33 717.8L274.53 714z" fill="#eaffff" stroke="#8ae4ec" stroke-width="1.1"/><path d="M285.46 710.2L289.26 714L285.46 717.8L281.66 714z" fill="#eaffff" stroke="#8ae4ec" stroke-width="1.1"/><path d="M292.59 710.2L296.39 714L292.59 717.8L288.79 714z" fill="#eaffff" stroke="#8ae4ec" stroke-width="1.1"/><path d="M299.72 710.2L303.52 714L299.72 717.8L295.92 714z" fill="#eaffff" stroke="#8ae4ec" stroke-width="1.1"/><path d="M306.85 709.8L310.65 713.6L306.85 717.4L303.05 713.6z" fill="#eaffff" stroke="#8ae4ec" stroke-width="1.1"/><path d="M313.98 709.8L317.78 713.6L313.98 717.4L310.18 713.6z" fill="#eaffff" stroke="#8ae4ec" stroke-width="1.1"/><path d="M321.11 709.8L324.91 713.6L321.11 717.4L317.31 713.6z" fill="#eaffff" stroke="#8ae4ec" stroke-width="1.1"/><path d="M328.24 709.8L332.04 713.6L328.24 717.4L324.44 713.6z" fill="#eaffff" stroke="#8ae4ec" stroke-width="1.1"/><path d="M335.37 709.8L339.17 713.6L335.37 717.4L331.57 713.6z" fill="#eaffff" stroke="#8ae4ec" stroke-width="1.1"/><path d="M342.5 709.8L346.3 713.6L342.5 717.4L338.7 713.6z" fill="#eaffff" stroke="#8ae4ec" stroke-width="1.1"/><circle cx="149.99" cy="716.8" r="2.85" fill="#fff" stroke="#2a2a90" stroke-width="1.05"/><circle cx="149.99" cy="716.8" r="0.55" fill="#2a2a90"/><circle cx="157.12" cy="716.8" r="2.85" fill="#fff" stroke="#2a2a90" stroke-width="1.05"/><circle cx="157.12" cy="716.8" r="0.55" fill="#2a2a90"/><circle cx="164.25" cy="716.8" r="2.85" fill="#fff" stroke="#2a2a90" stroke-width="1.05"/><circle cx="164.25" cy="716.8" r="0.55" fill="#2a2a90"/><circle cx="171.38" cy="716.8" r="2.85" fill="#fff" stroke="#2a2a90" stroke-width="1.05"/><circle cx="171.38" cy="716.8" r="0.55" fill="#2a2a90"/><circle cx="178.51" cy="716.8" r="2.85" fill="#fff" stroke="#2a2a90" stroke-width="1.05"/><circle cx="178.51" cy="716.8" r="0.55" fill="#2a2a90"/><circle cx="185.64" cy="716.8" r="2.85" fill="#fff" stroke="#2a2a90" stroke-width="1.05"/><circle cx="185.64" cy="716.8" r="0.55" fill="#2a2a90"/><circle cx="192.77" cy="716.8" r="2.85" fill="#fff" stroke="#2a2a90" stroke-width="1.05"/><circle cx="192.77" cy="716.8" r="0.55" fill="#2a2a90"/><circle cx="199.9" cy="716.8" r="2.85" fill="#fff" stroke="#2a2a90" stroke-width="1.05"/><circle cx="199.9" cy="716.8" r="0.55" fill="#2a2a90"/><circle cx="207.03" cy="716.8" r="2.85" fill="#fff" stroke="#2a2a90" stroke-width="1.05"/><circle cx="207.03" cy="716.8" r="0.55" fill="#2a2a90"/><circle cx="214.16" cy="716.8" r="2.85" fill="#fff" stroke="#2a2a90" stroke-width="1.05"/><circle cx="214.16" cy="716.8" r="0.55" fill="#2a2a90"/><circle cx="221.29" cy="716.8" r="2.85" fill="#fff" stroke="#2a2a90" stroke-width="1.05"/><circle cx="221.29" cy="716.8" r="0.55" fill="#2a2a90"/><circle cx="228.42" cy="716.8" r="2.85" fill="#fff" stroke="#2a2a90" stroke-width="1.05"/><circle cx="228.42" cy="716.8" r="0.55" fill="#2a2a90"/><circle cx="235.55" cy="716.8" r="2.85" fill="#fff" stroke="#2a2a90" stroke-width="1.05"/><circle cx="235.55" cy="716.8" r="0.55" fill="#2a2a90"/><circle cx="242.68" cy="716.8" r="2.85" fill="#fff" stroke="#2a2a90" stroke-width="1.05"/><circle cx="242.68" cy="716.8" r="0.55" fill="#2a2a90"/><circle cx="249.81" cy="716.8" r="2.85" fill="#fff" stroke="#2a2a90" stroke-width="1.05"/><circle cx="249.81" cy="716.8" r="0.55" fill="#2a2a90"/><circle cx="256.94" cy="716.8" r="2.85" fill="#fff" stroke="#2a2a90" stroke-width="1.05"/><circle cx="256.94" cy="716.8" r="0.55" fill="#2a2a90"/><circle cx="264.07" cy="716.8" r="2.85" fill="#fff" stroke="#2a2a90" stroke-width="1.05"/><circle cx="264.07" cy="716.8" r="0.55" fill="#2a2a90"/><circle cx="271.2" cy="716.8" r="2.85" fill="#fff" stroke="#2a2a90" stroke-width="1.05"/><circle cx="271.2" cy="716.8" r="0.55" fill="#2a2a90"/><circle cx="278.33" cy="716.8" r="2.85" fill="#fff" stroke="#2a2a90" stroke-width="1.05"/><circle cx="278.33" cy="716.8" r="0.55" fill="#2a2a90"/><circle cx="285.46" cy="716.8" r="2.85" fill="#fff" stroke="#2a2a90" stroke-width="1.05"/><circle cx="285.46" cy="716.8" r="0.55" fill="#2a2a90"/><circle cx="292.59" cy="716.8" r="2.85" fill="#fff" stroke="#2a2a90" stroke-width="1.05"/><circle cx="292.59" cy="716.8" r="0.55" fill="#2a2a90"/><circle cx="299.72" cy="716.8" r="2.85" fill="#fff" stroke="#2a2a90" stroke-width="1.05"/><circle cx="299.72" cy="716.8" r="0.55" fill="#2a2a90"/><path d="M128.6 712.7L132.4 716.5L128.6 720.3L124.8 716.5z" fill="#fff" stroke="#d494ec" stroke-width="1.1"/><circle cx="128.6" cy="716.5" r="0.55" fill="#d494ec"/><path d="M135.73 712L139.53 715.8L135.73 719.6L131.93 715.8z" fill="#fff" stroke="#d494ec" stroke-width="1.1"/><circle cx="135.73" cy="715.8" r="0.55" fill="#d494ec"/><path d="M142.86 711.4L146.66 715.2L142.86 719L139.06 715.2z" fill="#fff" stroke="#d494ec" stroke-width="1.1"/><circle cx="142.86" cy="715.2" r="0.55" fill="#d494ec"/><path d="M149.99 711.1L153.79 714.9L149.99 718.7L146.19 714.9z" fill="#fff" stroke="#d494ec" stroke-width="1.1"/><circle cx="149.99" cy="714.9" r="0.55" fill="#d494ec"/><path d="M157.12 711.1L160.92 714.9L157.12 718.7L153.32 714.9z" fill="#fff" stroke="#d494ec" stroke-width="1.1"/><circle cx="157.12" cy="714.9" r="0.55" fill="#d494ec"/><path d="M164.25 711.1L168.05 714.9L164.25 718.7L160.45 714.9z" fill="#fff" stroke="#d494ec" stroke-width="1.1"/><circle cx="164.25" cy="714.9" r="0.55" fill="#d494ec"/><path d="M171.38 711.1L175.18 714.9L171.38 718.7L167.58 714.9z" fill="#fff" stroke="#d494ec" stroke-width="1.1"/><circle cx="171.38" cy="714.9" r="0.55" fill="#d494ec"/><path d="M178.51 711.1L182.31 714.9L178.51 718.7L174.71 714.9z" fill="#fff" stroke="#d494ec" stroke-width="1.1"/><circle cx="178.51" cy="714.9" r="0.55" fill="#d494ec"/><path d="M185.64 711.1L189.44 714.9L185.64 718.7L181.84 714.9z" fill="#fff" stroke="#d494ec" stroke-width="1.1"/><circle cx="185.64" cy="714.9" r="0.55" fill="#d494ec"/><path d="M192.77 711.1L196.57 714.9L192.77 718.7L188.97 714.9z" fill="#fff" stroke="#d494ec" stroke-width="1.1"/><circle cx="192.77" cy="714.9" r="0.55" fill="#d494ec"/><path d="M199.9 711.1L203.7 714.9L199.9 718.7L196.1 714.9z" fill="#fff" stroke="#d494ec" stroke-width="1.1"/><circle cx="199.9" cy="714.9" r="0.55" fill="#d494ec"/><path d="M207.03 711.1L210.83 714.9L207.03 718.7L203.23 714.9z" fill="#fff" stroke="#d494ec" stroke-width="1.1"/><circle cx="207.03" cy="714.9" r="0.55" fill="#d494ec"/><path d="M214.16 711.1L217.96 714.9L214.16 718.7L210.36 714.9z" fill="#fff" stroke="#d494ec" stroke-width="1.1"/><circle cx="214.16" cy="714.9" r="0.55" fill="#d494ec"/><path d="M221.29 711.1L225.09 714.9L221.29 718.7L217.49 714.9z" fill="#fff" stroke="#d494ec" stroke-width="1.1"/><circle cx="221.29" cy="714.9" r="0.55" fill="#d494ec"/><path d="M228.42 711.1L232.22 714.9L228.42 718.7L224.62 714.9z" fill="#fff" stroke="#d494ec" stroke-width="1.1"/><circle cx="228.42" cy="714.9" r="0.55" fill="#d494ec"/><path d="M235.55 711.1L239.35 714.9L235.55 718.7L231.75 714.9z" fill="#fff" stroke="#d494ec" stroke-width="1.1"/><circle cx="235.55" cy="714.9" r="0.55" fill="#d494ec"/><path d="M242.68 711.1L246.48 714.9L242.68 718.7L238.88 714.9z" fill="#fff" stroke="#d494ec" stroke-width="1.1"/><circle cx="242.68" cy="714.9" r="0.55" fill="#d494ec"/><path d="M249.81 711.1L253.61 714.9L249.81 718.7L246.01 714.9z" fill="#fff" stroke="#d494ec" stroke-width="1.1"/><circle cx="249.81" cy="714.9" r="0.55" fill="#d494ec"/><path d="M256.94 711.1L260.74 714.9L256.94 718.7L253.14 714.9z" fill="#fff" stroke="#d494ec" stroke-width="1.1"/><circle cx="256.94" cy="714.9" r="0.55" fill="#d494ec"/><path d="M264.07 711.1L267.87 714.9L264.07 718.7L260.27 714.9z" fill="#fff" stroke="#d494ec" stroke-width="1.1"/><circle cx="264.07" cy="714.9" r="0.55" fill="#d494ec"/><path d="M271.2 711.1L275 714.9L271.2 718.7L267.4 714.9z" fill="#fff" stroke="#d494ec" stroke-width="1.1"/><circle cx="271.2" cy="714.9" r="0.55" fill="#d494ec"/><path d="M278.33 711.1L282.13 714.9L278.33 718.7L274.53 714.9z" fill="#fff" stroke="#d494ec" stroke-width="1.1"/><circle cx="278.33" cy="714.9" r="0.55" fill="#d494ec"/><path d="M285.46 711.1L289.26 714.9L285.46 718.7L281.66 714.9z" fill="#fff" stroke="#d494ec" stroke-width="1.1"/><circle cx="285.46" cy="714.9" r="0.55" fill="#d494ec"/><path d="M292.59 711.1L296.39 714.9L292.59 718.7L288.79 714.9z" fill="#fff" stroke="#d494ec" stroke-width="1.1"/><circle cx="292.59" cy="714.9" r="0.55" fill="#d494ec"/><path d="M299.72 711.1L303.52 714.9L299.72 718.7L295.92 714.9z" fill="#fff" stroke="#d494ec" stroke-width="1.1"/><circle cx="299.72" cy="714.9" r="0.55" fill="#d494ec"/><path d="M306.85 711.1L310.65 714.9L306.85 718.7L303.05 714.9z" fill="#fff" stroke="#d494ec" stroke-width="1.1"/><circle cx="306.85" cy="714.9" r="0.55" fill="#d494ec"/><path d="M313.98 711.1L317.78 714.9L313.98 718.7L310.18 714.9z" fill="#fff" stroke="#d494ec" stroke-width="1.1"/><circle cx="313.98" cy="714.9" r="0.55" fill="#d494ec"/><path d="M321.11 711.1L324.91 714.9L321.11 718.7L317.31 714.9z" fill="#fff" stroke="#d494ec" stroke-width="1.1"/><circle cx="321.11" cy="714.9" r="0.55" fill="#d494ec"/><path d="M328.24 711.1L332.04 714.9L328.24 718.7L324.44 714.9z" fill="#fff" stroke="#d494ec" stroke-width="1.1"/><circle cx="328.24" cy="714.9" r="0.55" fill="#d494ec"/><path d="M335.37 711.1L339.17 714.9L335.37 718.7L331.57 714.9z" fill="#fff" stroke="#d494ec" stroke-width="1.1"/><circle cx="335.37" cy="714.9" r="0.55" fill="#d494ec"/><path d="M342.5 711.1L346.3 714.9L342.5 718.7L338.7 714.9z" fill="#fff" stroke="#d494ec" stroke-width="1.1"/><circle cx="342.5" cy="714.9" r="0.55" fill="#d494ec"/><circle cx="135.73" cy="716" r="2.85" fill="#fff" stroke="#3a9a3a" stroke-width="1.05"/><circle cx="135.73" cy="716" r="0.55" fill="#3a9a3a"/><circle cx="142.86" cy="715" r="2.85" fill="#fff" stroke="#3a9a3a" stroke-width="1.05"/><circle cx="142.86" cy="715" r="0.55" fill="#3a9a3a"/><circle cx="149.99" cy="713.5" r="2.85" fill="#fff" stroke="#3a9a3a" stroke-width="1.05"/><circle cx="149.99" cy="713.5" r="0.55" fill="#3a9a3a"/><circle cx="157.12" cy="712.6" r="2.85" fill="#fff" stroke="#3a9a3a" stroke-width="1.05"/><circle cx="157.12" cy="712.6" r="0.55" fill="#3a9a3a"/><circle cx="164.25" cy="712" r="2.85" fill="#fff" stroke="#3a9a3a" stroke-width="1.05"/><circle cx="164.25" cy="712" r="0.55" fill="#3a9a3a"/><circle cx="171.38" cy="711.3" r="2.85" fill="#fff" stroke="#3a9a3a" stroke-width="1.05"/><circle cx="171.38" cy="711.3" r="0.55" fill="#3a9a3a"/><circle cx="178.51" cy="710.5" r="2.85" fill="#fff" stroke="#3a9a3a" stroke-width="1.05"/><circle cx="178.51" cy="710.5" r="0.55" fill="#3a9a3a"/><circle cx="185.64" cy="709.5" r="2.85" fill="#fff" stroke="#3a9a3a" stroke-width="1.05"/><circle cx="185.64" cy="709.5" r="0.55" fill="#3a9a3a"/><circle cx="192.77" cy="708.6" r="2.85" fill="#fff" stroke="#3a9a3a" stroke-width="1.05"/><circle cx="192.77" cy="708.6" r="0.55" fill="#3a9a3a"/><circle cx="199.9" cy="708.3" r="2.85" fill="#fff" stroke="#3a9a3a" stroke-width="1.05"/><circle cx="199.9" cy="708.3" r="0.55" fill="#3a9a3a"/><circle cx="207.03" cy="706.6" r="2.85" fill="#fff" stroke="#3a9a3a" stroke-width="1.05"/><circle cx="207.03" cy="706.6" r="0.55" fill="#3a9a3a"/><circle cx="214.16" cy="704.9" r="2.85" fill="#fff" stroke="#3a9a3a" stroke-width="1.05"/><circle cx="214.16" cy="704.9" r="0.55" fill="#3a9a3a"/><circle cx="221.29" cy="702.3" r="2.85" fill="#fff" stroke="#3a9a3a" stroke-width="1.05"/><circle cx="221.29" cy="702.3" r="0.55" fill="#3a9a3a"/><circle cx="228.42" cy="700.9" r="2.85" fill="#fff" stroke="#3a9a3a" stroke-width="1.05"/><circle cx="228.42" cy="700.9" r="0.55" fill="#3a9a3a"/><circle cx="235.55" cy="699.2" r="2.85" fill="#fff" stroke="#3a9a3a" stroke-width="1.05"/><circle cx="235.55" cy="699.2" r="0.55" fill="#3a9a3a"/><circle cx="242.68" cy="698.8" r="2.85" fill="#fff" stroke="#3a9a3a" stroke-width="1.05"/><circle cx="242.68" cy="698.8" r="0.55" fill="#3a9a3a"/><circle cx="249.81" cy="698.5" r="2.85" fill="#fff" stroke="#3a9a3a" stroke-width="1.05"/><circle cx="249.81" cy="698.5" r="0.55" fill="#3a9a3a"/><circle cx="256.94" cy="698.3" r="2.85" fill="#fff" stroke="#3a9a3a" stroke-width="1.05"/><circle cx="256.94" cy="698.3" r="0.55" fill="#3a9a3a"/><circle cx="264.07" cy="693.5" r="2.85" fill="#fff" stroke="#3a9a3a" stroke-width="1.05"/><circle cx="264.07" cy="693.5" r="0.55" fill="#3a9a3a"/><circle cx="271.2" cy="684" r="2.85" fill="#fff" stroke="#3a9a3a" stroke-width="1.05"/><circle cx="271.2" cy="684" r="0.55" fill="#3a9a3a"/><circle cx="278.33" cy="681.8" r="2.85" fill="#fff" stroke="#3a9a3a" stroke-width="1.05"/><circle cx="278.33" cy="681.8" r="0.55" fill="#3a9a3a"/><circle cx="285.46" cy="689.6" r="2.85" fill="#fff" stroke="#3a9a3a" stroke-width="1.05"/><circle cx="285.46" cy="689.6" r="0.55" fill="#3a9a3a"/><circle cx="292.59" cy="675.4" r="2.85" fill="#fff" stroke="#3a9a3a" stroke-width="1.05"/><circle cx="292.59" cy="675.4" r="0.55" fill="#3a9a3a"/><circle cx="299.72" cy="674.4" r="2.85" fill="#fff" stroke="#3a9a3a" stroke-width="1.05"/><circle cx="299.72" cy="674.4" r="0.55" fill="#3a9a3a"/><circle cx="306.85" cy="675.8" r="2.85" fill="#fff" stroke="#3a9a3a" stroke-width="1.05"/><circle cx="306.85" cy="675.8" r="0.55" fill="#3a9a3a"/><circle cx="313.98" cy="669.2" r="2.85" fill="#fff" stroke="#3a9a3a" stroke-width="1.05"/><circle cx="313.98" cy="669.2" r="0.55" fill="#3a9a3a"/><circle cx="321.11" cy="665" r="2.85" fill="#fff" stroke="#3a9a3a" stroke-width="1.05"/><circle cx="321.11" cy="665" r="0.55" fill="#3a9a3a"/><circle cx="328.24" cy="687.2" r="2.85" fill="#fff" stroke="#3a9a3a" stroke-width="1.05"/><circle cx="328.24" cy="687.2" r="0.55" fill="#3a9a3a"/><circle cx="335.37" cy="687.2" r="2.85" fill="#fff" stroke="#3a9a3a" stroke-width="1.05"/><circle cx="335.37" cy="687.2" r="0.55" fill="#3a9a3a"/><path d="M57.3 713.7L60.8 717.2L57.3 720.7L53.8 717.2z" fill="#fff" stroke="#d43c3c" stroke-width="1"/><path d="M57.7 713.7L61.2 717.2L57.7 720.7L54.2 717.2z" fill="none" stroke="#34309c" stroke-width="0.95"/><path d="M64.43 713.5L67.93 717L64.43 720.5L60.93 717z" fill="#fff" stroke="#d43c3c" stroke-width="1"/><path d="M64.83 713.7L68.33 717.2L64.83 720.7L61.33 717.2z" fill="none" stroke="#34309c" stroke-width="0.95"/><path d="M71.56 713.5L75.06 717L71.56 720.5L68.06 717z" fill="#fff" stroke="#d43c3c" stroke-width="1"/><path d="M71.96 713.7L75.46 717.2L71.96 720.7L68.46 717.2z" fill="none" stroke="#34309c" stroke-width="0.95"/><path d="M78.69 713.5L82.19 717L78.69 720.5L75.19 717z" fill="#fff" stroke="#d43c3c" stroke-width="1"/><path d="M79.09 713.7L82.59 717.2L79.09 720.7L75.59 717.2z" fill="none" stroke="#34309c" stroke-width="0.95"/><path d="M85.82 713.4L89.32 716.9L85.82 720.4L82.32 716.9z" fill="#fff" stroke="#d43c3c" stroke-width="1"/><path d="M86.22 713.7L89.72 717.2L86.22 720.7L82.72 717.2z" fill="none" stroke="#34309c" stroke-width="0.95"/><path d="M92.95 713.3L96.45 716.8L92.95 720.3L89.45 716.8z" fill="#fff" stroke="#d43c3c" stroke-width="1"/><path d="M93.35 713.7L96.85 717.2L93.35 720.7L89.85 717.2z" fill="none" stroke="#34309c" stroke-width="0.95"/><path d="M100.08 713.1L103.58 716.6L100.08 720.1L96.58 716.6z" fill="#fff" stroke="#d43c3c" stroke-width="1"/><path d="M100.48 713.7L103.98 717.2L100.48 720.7L96.98 717.2z" fill="none" stroke="#34309c" stroke-width="0.95"/><path d="M107.21 712.9L110.71 716.4L107.21 719.9L103.71 716.4z" fill="#fff" stroke="#d43c3c" stroke-width="1"/><path d="M107.61 713.7L111.11 717.2L107.61 720.7L104.11 717.2z" fill="none" stroke="#34309c" stroke-width="0.95"/><path d="M114.34 712.6L117.84 716.1L114.34 719.6L110.84 716.1z" fill="#fff" stroke="#d43c3c" stroke-width="1"/><path d="M114.74 713.7L118.24 717.2L114.74 720.7L111.24 717.2z" fill="none" stroke="#34309c" stroke-width="0.95"/><path d="M121.47 712.1L124.97 715.6L121.47 719.1L117.97 715.6z" fill="#fff" stroke="#d43c3c" stroke-width="1"/><path d="M121.87 713.7L125.37 717.2L121.87 720.7L118.37 717.2z" fill="none" stroke="#34309c" stroke-width="0.95"/><path d="M128.6 710.5L132.1 714L128.6 717.5L125.1 714z" fill="#fff" stroke="#d43c3c" stroke-width="1"/><path d="M135.73 709.3L139.23 712.8L135.73 716.3L132.23 712.8z" fill="#fff" stroke="#d43c3c" stroke-width="1"/><path d="M142.86 708.9L146.36 712.4L142.86 715.9L139.36 712.4z" fill="#fff" stroke="#d43c3c" stroke-width="1"/><path d="M149.99 707.9L153.49 711.4L149.99 714.9L146.49 711.4z" fill="#fff" stroke="#d43c3c" stroke-width="1.1"/><circle cx="149.99" cy="711.4" r="0.55" fill="#d43c3c"/><path d="M157.12 705.9L160.62 709.4L157.12 712.9L153.62 709.4z" fill="#fff" stroke="#d43c3c" stroke-width="1.1"/><circle cx="157.12" cy="709.4" r="0.55" fill="#d43c3c"/><path d="M164.25 704.5L167.75 708L164.25 711.5L160.75 708z" fill="#fff" stroke="#d43c3c" stroke-width="1.1"/><circle cx="164.25" cy="708" r="0.55" fill="#d43c3c"/><path d="M171.38 703.5L174.88 707L171.38 710.5L167.88 707z" fill="#fff" stroke="#d43c3c" stroke-width="1.1"/><circle cx="171.38" cy="707" r="0.55" fill="#d43c3c"/><path d="M178.51 703L182.01 706.5L178.51 710L175.01 706.5z" fill="#fff" stroke="#d43c3c" stroke-width="1.1"/><circle cx="178.51" cy="706.5" r="0.55" fill="#d43c3c"/><path d="M185.64 702.3L189.14 705.8L185.64 709.3L182.14 705.8z" fill="#fff" stroke="#d43c3c" stroke-width="1.1"/><circle cx="185.64" cy="705.8" r="0.55" fill="#d43c3c"/><path d="M192.77 700L196.27 703.5L192.77 707L189.27 703.5z" fill="#fff" stroke="#d43c3c" stroke-width="1.1"/><circle cx="192.77" cy="703.5" r="0.55" fill="#d43c3c"/><path d="M199.9 696.9L203.4 700.4L199.9 703.9L196.4 700.4z" fill="#fff" stroke="#d43c3c" stroke-width="1.1"/><circle cx="199.9" cy="700.4" r="0.55" fill="#d43c3c"/><path d="M207.03 693.5L210.53 697L207.03 700.5L203.53 697z" fill="#fff" stroke="#d43c3c" stroke-width="1.1"/><circle cx="207.03" cy="697" r="0.55" fill="#d43c3c"/><path d="M214.16 692.3L217.66 695.8L214.16 699.3L210.66 695.8z" fill="#fff" stroke="#d43c3c" stroke-width="1.1"/><circle cx="214.16" cy="695.8" r="0.55" fill="#d43c3c"/><path d="M221.29 690.2L224.79 693.7L221.29 697.2L217.79 693.7z" fill="#fff" stroke="#d43c3c" stroke-width="1.1"/><circle cx="221.29" cy="693.7" r="0.55" fill="#d43c3c"/><path d="M228.42 688.5L231.92 692L228.42 695.5L224.92 692z" fill="#fff" stroke="#d43c3c" stroke-width="1.1"/><circle cx="228.42" cy="692" r="0.55" fill="#d43c3c"/><path d="M235.55 687.1L239.05 690.6L235.55 694.1L232.05 690.6z" fill="#fff" stroke="#d43c3c" stroke-width="1.1"/><circle cx="235.55" cy="690.6" r="0.55" fill="#d43c3c"/><path d="M242.68 686.7L246.18 690.2L242.68 693.7L239.18 690.2z" fill="#fff" stroke="#d43c3c" stroke-width="1.1"/><circle cx="242.68" cy="690.2" r="0.55" fill="#d43c3c"/><path d="M249.81 686.1L253.31 689.6L249.81 693.1L246.31 689.6z" fill="#fff" stroke="#d43c3c" stroke-width="1.1"/><circle cx="249.81" cy="689.6" r="0.55" fill="#d43c3c"/><path d="M256.94 684.5L260.44 688L256.94 691.5L253.44 688z" fill="#fff" stroke="#d43c3c" stroke-width="1.1"/><circle cx="256.94" cy="688" r="0.55" fill="#d43c3c"/><path d="M264.07 679.3L267.57 682.8L264.07 686.3L260.57 682.8z" fill="#fff" stroke="#d43c3c" stroke-width="1.1"/><circle cx="264.07" cy="682.8" r="0.55" fill="#d43c3c"/><path d="M271.2 666.7L274.7 670.2L271.2 673.7L267.7 670.2z" fill="#fff" stroke="#d43c3c" stroke-width="1.1"/><circle cx="271.2" cy="670.2" r="0.55" fill="#d43c3c"/><path d="M278.33 664.1L281.83 667.6L278.33 671.1L274.83 667.6z" fill="#fff" stroke="#d43c3c" stroke-width="1.1"/><circle cx="278.33" cy="667.6" r="0.55" fill="#d43c3c"/><path d="M285.46 670.8L288.96 674.3L285.46 677.8L281.96 674.3z" fill="#fff" stroke="#d43c3c" stroke-width="1.1"/><circle cx="285.46" cy="674.3" r="0.55" fill="#d43c3c"/><path d="M292.59 655.5L296.09 659L292.59 662.5L289.09 659z" fill="#fff" stroke="#d43c3c" stroke-width="1.1"/><circle cx="292.59" cy="659" r="0.55" fill="#d43c3c"/><path d="M299.72 654.4L303.22 657.9L299.72 661.4L296.22 657.9z" fill="#fff" stroke="#d43c3c" stroke-width="1.1"/><circle cx="299.72" cy="657.9" r="0.55" fill="#d43c3c"/><path d="M313.98 493.7L317.48 497.2L313.98 500.7L310.48 497.2z" fill="#fff" stroke="#d43c3c" stroke-width="1.1"/><circle cx="313.98" cy="497.2" r="0.55" fill="#d43c3c"/><path d="M321.11 509.4L324.61 512.9L321.11 516.4L317.61 512.9z" fill="#fff" stroke="#d43c3c" stroke-width="1.1"/><circle cx="321.11" cy="512.9" r="0.55" fill="#d43c3c"/><path d="M328.24 555.1L331.74 558.6L328.24 562.1L324.74 558.6z" fill="#fff" stroke="#d43c3c" stroke-width="1.1"/><circle cx="328.24" cy="558.6" r="0.55" fill="#d43c3c"/><path d="M335.37 587.5L338.87 591L335.37 594.5L331.87 591z" fill="#fff" stroke="#d43c3c" stroke-width="1.1"/><circle cx="335.37" cy="591" r="0.55" fill="#d43c3c"/><path d="M342.5 673.5L346 677L342.5 680.5L339 677z" fill="#fff" stroke="#d43c3c" stroke-width="1.1"/><circle cx="342.5" cy="677" r="0.55" fill="#d43c3c"/><circle cx="306.85" cy="544.2" r="2.85" fill="#fff" stroke="#2a2a90" stroke-width="1.05"/><circle cx="306.85" cy="544.2" r="0.55" fill="#2a2a90"/><circle cx="313.98" cy="567.3" r="2.85" fill="#fff" stroke="#2a2a90" stroke-width="1.05"/><circle cx="313.98" cy="567.3" r="0.55" fill="#2a2a90"/><circle cx="321.11" cy="589" r="2.85" fill="#fff" stroke="#2a2a90" stroke-width="1.05"/><circle cx="321.11" cy="589" r="0.55" fill="#2a2a90"/><circle cx="328.24" cy="615.9" r="2.85" fill="#fff" stroke="#2a2a90" stroke-width="1.05"/><circle cx="328.24" cy="615.9" r="0.55" fill="#2a2a90"/><circle cx="335.37" cy="648.6" r="2.85" fill="#fff" stroke="#2a2a90" stroke-width="1.05"/><circle cx="335.37" cy="648.6" r="0.55" fill="#2a2a90"/></g><rect x="57.4" y="491.9" width="287.8" height="225.4" fill="none" stroke="#3c3c3c" stroke-width="1.35"/><line x1="53" y1="717.3" x2="57.4" y2="717.3" stroke="#3c3c3c" stroke-width="1.2"/><line x1="341" y1="717.3" x2="345.2" y2="717.3" stroke="#3c3c3c" stroke-width="1.2"/><text x="40.81 45.86 53.14" y="721.4" font-family="Liberation Serif" font-size="12" font-weight="normal" fill="#303030" text-anchor="middle" transform="scale(0.9 1)" >0.0</text><line x1="53" y1="685.16" x2="57.4" y2="685.16" stroke="#3c3c3c" stroke-width="1.2"/><line x1="341" y1="685.16" x2="345.2" y2="685.16" stroke="#3c3c3c" stroke-width="1.2"/><text x="40.81 45.86 53.14" y="689.26" font-family="Liberation Serif" font-size="12" font-weight="normal" fill="#303030" text-anchor="middle" transform="scale(0.9 1)" >0.1</text><line x1="53" y1="653.02" x2="57.4" y2="653.02" stroke="#3c3c3c" stroke-width="1.2"/><line x1="341" y1="653.02" x2="345.2" y2="653.02" stroke="#3c3c3c" stroke-width="1.2"/><text x="40.81 45.86 53.14" y="657.12" font-family="Liberation Serif" font-size="12" font-weight="normal" fill="#303030" text-anchor="middle" transform="scale(0.9 1)" >0.2</text><line x1="53" y1="620.88" x2="57.4" y2="620.88" stroke="#3c3c3c" stroke-width="1.2"/><line x1="341" y1="620.88" x2="345.2" y2="620.88" stroke="#3c3c3c" stroke-width="1.2"/><text x="40.81 45.86 53.14" y="624.98" font-family="Liberation Serif" font-size="12" font-weight="normal" fill="#303030" text-anchor="middle" transform="scale(0.9 1)" >0.3</text><line x1="53" y1="588.74" x2="57.4" y2="588.74" stroke="#3c3c3c" stroke-width="1.2"/><line x1="341" y1="588.74" x2="345.2" y2="588.74" stroke="#3c3c3c" stroke-width="1.2"/><text x="40.81 45.86 53.14" y="592.84" font-family="Liberation Serif" font-size="12" font-weight="normal" fill="#303030" text-anchor="middle" transform="scale(0.9 1)" >0.4</text><line x1="53" y1="556.6" x2="57.4" y2="556.6" stroke="#3c3c3c" stroke-width="1.2"/><line x1="341" y1="556.6" x2="345.2" y2="556.6" stroke="#3c3c3c" stroke-width="1.2"/><text x="40.81 45.86 53.14" y="560.7" font-family="Liberation Serif" font-size="12" font-weight="normal" fill="#303030" text-anchor="middle" transform="scale(0.9 1)" >0.5</text><line x1="53" y1="524.46" x2="57.4" y2="524.46" stroke="#3c3c3c" stroke-width="1.2"/><line x1="341" y1="524.46" x2="345.2" y2="524.46" stroke="#3c3c3c" stroke-width="1.2"/><text x="40.81 45.86 53.14" y="528.56" font-family="Liberation Serif" font-size="12" font-weight="normal" fill="#303030" text-anchor="middle" transform="scale(0.9 1)" >0.6</text><line x1="53" y1="492.32" x2="57.4" y2="492.32" stroke="#3c3c3c" stroke-width="1.2"/><line x1="341" y1="492.32" x2="345.2" y2="492.32" stroke="#3c3c3c" stroke-width="1.2"/><text x="40.81 45.86 53.14" y="496.42" font-family="Liberation Serif" font-size="12" font-weight="normal" fill="#303030" text-anchor="middle" transform="scale(0.9 1)" >0.7</text><line x1="55" y1="701.23" x2="57.4" y2="701.23" stroke="#3c3c3c" stroke-width="1.1"/><line x1="342.8" y1="701.23" x2="345.2" y2="701.23" stroke="#3c3c3c" stroke-width="1.1"/><line x1="55" y1="669.09" x2="57.4" y2="669.09" stroke="#3c3c3c" stroke-width="1.1"/><line x1="342.8" y1="669.09" x2="345.2" y2="669.09" stroke="#3c3c3c" stroke-width="1.1"/><line x1="55" y1="636.95" x2="57.4" y2="636.95" stroke="#3c3c3c" stroke-width="1.1"/><line x1="342.8" y1="636.95" x2="345.2" y2="636.95" stroke="#3c3c3c" stroke-width="1.1"/><line x1="55" y1="604.81" x2="57.4" y2="604.81" stroke="#3c3c3c" stroke-width="1.1"/><line x1="342.8" y1="604.81" x2="345.2" y2="604.81" stroke="#3c3c3c" stroke-width="1.1"/><line x1="55" y1="572.67" x2="57.4" y2="572.67" stroke="#3c3c3c" stroke-width="1.1"/><line x1="342.8" y1="572.67" x2="345.2" y2="572.67" stroke="#3c3c3c" stroke-width="1.1"/><line x1="55" y1="540.53" x2="57.4" y2="540.53" stroke="#3c3c3c" stroke-width="1.1"/><line x1="342.8" y1="540.53" x2="345.2" y2="540.53" stroke="#3c3c3c" stroke-width="1.1"/><line x1="55" y1="508.39" x2="57.4" y2="508.39" stroke="#3c3c3c" stroke-width="1.1"/><line x1="342.8" y1="508.39" x2="345.2" y2="508.39" stroke="#3c3c3c" stroke-width="1.1"/><g transform="translate(20.6 605.6) rotate(-90)" fill="#3c3c3c" font-family="Liberation Serif"><text x="-64.22 -57.86 -51.5 -45.14 -38.78 -32.42 -26.06 -19.7 -13.34 -6.98" y="0" font-size="13.6" text-anchor="middle">Scattering</text><text x="7.18 13.54 19.9 26.26" y="0" font-size="13.6" text-anchor="middle">rate</text><text x="39.8" y="-1.3" font-size="13.6" text-anchor="middle">(</text><text x="45.9 51.8" y="0" font-size="13.6" text-anchor="middle">ps</text><text x="56.6 60.6" y="-5.6" font-size="8" text-anchor="middle">-1</text><text x="65.0" y="-1.3" font-size="13.6" text-anchor="middle">)</text></g><text x="6.4" y="494.5" font-family="Liberation Serif" font-size="14" fill="#303030">(</text><text x="13.6" y="495.5" font-family="Liberation Serif" font-size="16" fill="#303030">c</text><text x="24.1" y="494.5" font-family="Liberation Serif" font-size="14" fill="#303030">)</text><text x="50.6" y="734" font-family="Liberation Serif" font-size="13.2" fill="#303030">&#915;</text><text x="334" y="734" font-family="Liberation Serif" font-size="12.5" fill="#303030">M</text><text x="67.1" y="512.1" font-family="Liberation Serif" font-size="11.7" font-weight="bold" fill="#111">Penta-graphene</text><circle cx="74.7" cy="533.9" r="0.65" fill="#d43c3c"/><circle cx="79.6" cy="533.9" r="0.65" fill="#d43c3c"/><circle cx="93.1" cy="533.9" r="0.65" fill="#d43c3c"/><path d="M85.7 530.4L89.2 533.9L85.7 537.4L82.2 533.9z" fill="#fff" stroke="#d43c3c" stroke-width="1.1"/><circle cx="85.7" cy="533.9" r="0.55" fill="#d43c3c"/><text x="131.22 137.91" y="538" font-family="Liberation Sans" font-size="10" font-weight="normal" fill="#d42828" text-anchor="middle" transform="scale(0.8 1)" >ZA</text><text x="137.53 143.61 149.69 155.77 161.85" y="538" font-family="Liberation Serif" font-size="12.2" font-weight="normal" fill="#c44c4c" text-anchor="middle" transform="scale(0.88 1)" >total</text><circle cx="74.7" cy="548.25" r="0.65" fill="#3a9a3a"/><circle cx="79.6" cy="548.25" r="0.65" fill="#3a9a3a"/><circle cx="93.1" cy="548.25" r="0.65" fill="#3a9a3a"/><circle cx="85.7" cy="548.25" r="2.85" fill="#fff" stroke="#3a9a3a" stroke-width="1.05"/><circle cx="85.7" cy="548.25" r="0.55" fill="#3a9a3a"/><text x="131.22 137.91 144.59 151.28 157.97" y="552.35" font-family="Liberation Sans" font-size="10" font-weight="normal" fill="#3f9a3f" text-anchor="middle" transform="scale(0.8 1)" >ZA+ZA</text><line x1="129.55" y1="548.85" x2="138.15" y2="548.85" stroke="#1a1a1a" stroke-width="1.05"/><path d="M136.65 546.45L139.65 548.85L136.65 551.25L137.55 548.85z" fill="#1a1a1a"/><text x="178.03 184.72" y="552.35" font-family="Liberation Sans" font-size="10" font-weight="normal" fill="#3f9a3f" text-anchor="middle" transform="scale(0.8 1)" >ZA</text><circle cx="74.7" cy="562.6" r="0.65" fill="#2a2a90"/><circle cx="79.6" cy="562.6" r="0.65" fill="#2a2a90"/><circle cx="93.1" cy="562.6" r="0.65" fill="#2a2a90"/><circle cx="85.7" cy="562.6" r="2.85" fill="#fff" stroke="#2a2a90" stroke-width="1.05"/><circle cx="85.7" cy="562.6" r="0.55" fill="#2a2a90"/><text x="131.22 137.91" y="566.7" font-family="Liberation Sans" font-size="10" font-weight="normal" fill="#4a4aa0" text-anchor="middle" transform="scale(0.8 1)" >ZA</text><line x1="113.5" y1="563.2" x2="122.1" y2="563.2" stroke="#1a1a1a" stroke-width="1.05"/><path d="M120.6 560.8L123.6 563.2L120.6 565.6L121.5 563.2z" fill="#1a1a1a"/><text x="157.97 164.66 171.34 178.03 184.72" y="566.7" font-family="Liberation Sans" font-size="10" font-weight="normal" fill="#4a4aa0" text-anchor="middle" transform="scale(0.8 1)" >ZA+ZA</text><circle cx="74.7" cy="576.95" r="0.65" fill="#3a9a3a"/><circle cx="79.6" cy="576.95" r="0.65" fill="#3a9a3a"/><circle cx="93.1" cy="576.95" r="0.65" fill="#3a9a3a"/><circle cx="85.7" cy="576.95" r="2.85" fill="#fff" stroke="#3a9a3a" stroke-width="1.05"/><circle cx="85.7" cy="576.95" r="0.55" fill="#3a9a3a"/><text x="131.22 137.91 144.59 151.28 157.97" y="581.05" font-family="Liberation Sans" font-size="10" font-weight="normal" fill="#5ad8e4" text-anchor="middle" transform="scale(0.8 1)" >ZA+ZA</text><line x1="129.55" y1="577.55" x2="138.15" y2="577.55" stroke="#1a1a1a" stroke-width="1.05"/><path d="M136.65 575.15L139.65 577.55L136.65 579.95L137.55 577.55z" fill="#1a1a1a"/><text x="178.03 184.72" y="581.05" font-family="Liberation Sans" font-size="10" font-weight="normal" fill="#5ad8e4" text-anchor="middle" transform="scale(0.8 1)" >TA</text><circle cx="74.7" cy="591.3" r="0.65" fill="#3a9a3a"/><circle cx="79.6" cy="591.3" r="0.65" fill="#3a9a3a"/><circle cx="93.1" cy="591.3" r="0.65" fill="#3a9a3a"/><circle cx="85.7" cy="591.3" r="2.85" fill="#fff" stroke="#3a9a3a" stroke-width="1.05"/><circle cx="85.7" cy="591.3" r="0.55" fill="#3a9a3a"/><text x="131.22 137.91 144.59 151.28 157.97" y="595.4" font-family="Liberation Sans" font-size="10" font-weight="normal" fill="#cc50d0" text-anchor="middle" transform="scale(0.8 1)" >ZA+ZA</text><line x1="129.55" y1="591.9" x2="138.15" y2="591.9" stroke="#1a1a1a" stroke-width="1.05"/><path d="M136.65 589.5L139.65 591.9L136.65 594.3L137.55 591.9z" fill="#1a1a1a"/><text x="178.03 184.72" y="595.4" font-family="Liberation Sans" font-size="10" font-weight="normal" fill="#cc50d0" text-anchor="middle" transform="scale(0.8 1)" >LA</text><circle cx="74.7" cy="605.65" r="0.65" fill="#3a9a3a"/><circle cx="79.6" cy="605.65" r="0.65" fill="#3a9a3a"/><circle cx="93.1" cy="605.65" r="0.65" fill="#3a9a3a"/><circle cx="85.7" cy="605.65" r="2.85" fill="#fff" stroke="#3a9a3a" stroke-width="1.05"/><circle cx="85.7" cy="605.65" r="0.55" fill="#3a9a3a"/><text x="131.22 137.91 144.59 151.28" y="609.75" font-family="Liberation Sans" font-size="10" font-weight="normal" fill="#e8e840" text-anchor="middle" transform="scale(0.8 1)" >ZA+O</text><line x1="124.2" y1="606.25" x2="132.8" y2="606.25" stroke="#1a1a1a" stroke-width="1.05"/><path d="M131.3 603.85L134.3 606.25L131.3 608.65L132.2 606.25z" fill="#1a1a1a"/><text x="171.34" y="609.75" font-family="Liberation Sans" font-size="10" font-weight="normal" fill="#e8e840" text-anchor="middle" transform="scale(0.8 1)" >O</text>
</svg>
</body></html>
